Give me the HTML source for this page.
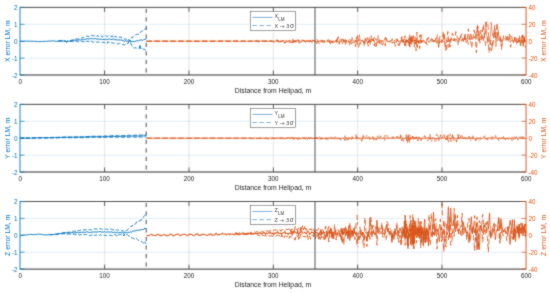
<!DOCTYPE html>
<html><head><meta charset="utf-8"><style>
html,body{margin:0;padding:0;background:#fff;}
svg{display:block;}
.tk{font-size:6.3px;font-family:'Liberation Sans',sans-serif;}
.lb{font-size:6.8px;font-family:'Liberation Sans',sans-serif;}
.lg{font-size:5.5px;font-family:'Liberation Sans',sans-serif;}
</style></head><body>
<svg width="550" height="293" viewBox="0 0 550 293">
<defs><filter id="soft" filterUnits="userSpaceOnUse" x="0" y="0" width="550" height="293"><feConvolveMatrix order="3" kernelMatrix="1 2 1 2 16 2 1 2 1" divisor="28" edgeMode="duplicate"/></filter></defs>
<rect width="550" height="293" fill="#fff"/>
<g filter="url(#soft)">
<line x1="104.64" y1="7.4" x2="104.64" y2="75.0" stroke="#262626" stroke-opacity="0.12" stroke-width="1"/>
<line x1="188.98" y1="7.4" x2="188.98" y2="75.0" stroke="#262626" stroke-opacity="0.12" stroke-width="1"/>
<line x1="273.32" y1="7.4" x2="273.32" y2="75.0" stroke="#262626" stroke-opacity="0.12" stroke-width="1"/>
<line x1="357.66" y1="7.4" x2="357.66" y2="75.0" stroke="#262626" stroke-opacity="0.12" stroke-width="1"/>
<line x1="442.00" y1="7.4" x2="442.00" y2="75.0" stroke="#262626" stroke-opacity="0.12" stroke-width="1"/>
<line x1="20.0" y1="58.10" x2="526.0" y2="58.10" stroke="#0072BD" stroke-opacity="0.12" stroke-width="1"/>
<line x1="20.0" y1="24.30" x2="526.0" y2="24.30" stroke="#0072BD" stroke-opacity="0.12" stroke-width="1"/>
<line x1="104.64" y1="104.4" x2="104.64" y2="172.0" stroke="#262626" stroke-opacity="0.12" stroke-width="1"/>
<line x1="188.98" y1="104.4" x2="188.98" y2="172.0" stroke="#262626" stroke-opacity="0.12" stroke-width="1"/>
<line x1="273.32" y1="104.4" x2="273.32" y2="172.0" stroke="#262626" stroke-opacity="0.12" stroke-width="1"/>
<line x1="357.66" y1="104.4" x2="357.66" y2="172.0" stroke="#262626" stroke-opacity="0.12" stroke-width="1"/>
<line x1="442.00" y1="104.4" x2="442.00" y2="172.0" stroke="#262626" stroke-opacity="0.12" stroke-width="1"/>
<line x1="20.0" y1="155.10" x2="526.0" y2="155.10" stroke="#0072BD" stroke-opacity="0.12" stroke-width="1"/>
<line x1="20.0" y1="121.30" x2="526.0" y2="121.30" stroke="#0072BD" stroke-opacity="0.12" stroke-width="1"/>
<line x1="104.64" y1="201.5" x2="104.64" y2="269.1" stroke="#262626" stroke-opacity="0.12" stroke-width="1"/>
<line x1="188.98" y1="201.5" x2="188.98" y2="269.1" stroke="#262626" stroke-opacity="0.12" stroke-width="1"/>
<line x1="273.32" y1="201.5" x2="273.32" y2="269.1" stroke="#262626" stroke-opacity="0.12" stroke-width="1"/>
<line x1="357.66" y1="201.5" x2="357.66" y2="269.1" stroke="#262626" stroke-opacity="0.12" stroke-width="1"/>
<line x1="442.00" y1="201.5" x2="442.00" y2="269.1" stroke="#262626" stroke-opacity="0.12" stroke-width="1"/>
<line x1="20.0" y1="252.20" x2="526.0" y2="252.20" stroke="#0072BD" stroke-opacity="0.12" stroke-width="1"/>
<line x1="20.0" y1="218.40" x2="526.0" y2="218.40" stroke="#0072BD" stroke-opacity="0.12" stroke-width="1"/>
<path d="M20.0,41.3 L20.8,41.2 L21.6,41.2 L22.4,41.4 L23.2,41.3 L24.0,41.3 L24.8,41.1 L25.6,41.1 L26.4,41.0 L27.2,41.3 L28.0,41.0 L28.8,41.2 L29.6,41.1 L30.4,41.2 L31.2,41.3 L32.0,41.2 L32.8,41.2 L33.6,41.3 L34.4,41.4 L35.2,41.3 L36.0,41.5 L36.8,41.6 L37.6,41.4 L38.4,41.5 L39.2,41.7 L40.0,41.5 L40.8,41.4 L41.6,41.5 L42.4,41.6 L43.2,41.3 L44.0,41.2 L44.8,41.4 L45.6,41.4 L46.4,41.2 L47.2,41.2 L48.0,41.3 L48.8,41.1 L49.6,40.9 L50.4,41.1 L51.2,41.1 L52.0,40.9 L52.8,40.9 L53.6,40.8 L54.4,41.2 L55.2,41.2 L56.0,41.3 L56.8,41.4 L57.6,41.1 L58.4,41.1 L59.2,41.2 L60.0,40.8 L60.8,40.9 L61.6,40.9 L62.4,40.9 L63.2,40.8 L64.0,41.3 L64.8,41.0 L65.6,41.1 L66.4,41.6 L67.2,41.2 L68.0,41.3 L68.8,41.1 L69.6,41.2 L70.4,41.0 L71.2,40.7 L72.0,40.8 L72.8,40.4 L73.6,40.4 L74.4,40.2 L75.2,40.3 L76.0,40.0 L76.8,40.1 L77.6,40.2 L78.4,40.0 L79.2,39.8 L80.0,39.7 L80.8,40.3 L81.6,39.7 L82.4,39.7 L83.2,39.7 L84.0,39.7 L84.8,39.1 L85.6,39.5 L86.4,39.0 L87.2,38.7 L88.0,39.2 L88.8,38.9 L89.6,39.0 L90.4,38.7 L91.2,38.4 L92.0,38.3 L92.8,39.1 L93.6,38.9 L94.4,38.7 L95.2,38.5 L96.0,38.8 L96.8,39.2 L97.6,39.0 L98.4,39.1 L99.2,39.2 L100.0,39.3 L100.8,39.1 L101.6,39.2 L102.4,39.3 L103.2,39.4 L104.0,39.6 L104.8,39.5 L105.6,39.1 L106.4,39.4 L107.2,39.7 L108.0,39.0 L108.8,39.2 L109.6,38.8 L110.4,39.3 L111.2,39.4 L112.0,39.7 L112.8,39.1 L113.6,38.8 L114.4,39.8 L115.2,39.8 L116.0,39.5 L116.8,40.0 L117.6,39.9 L118.4,40.0 L119.2,39.9 L120.0,39.8 L120.8,40.2 L121.6,40.0 L122.4,40.5 L123.2,40.5 L124.0,41.3 L124.8,41.3 L125.6,40.7 L126.4,41.2 L127.2,41.0 L128.0,41.0 L128.8,40.9 L129.6,41.1 L130.4,41.1 L131.2,41.4 L132.0,41.5 L132.8,41.5 L133.6,41.4 L134.4,41.6 L135.2,41.3 L136.0,41.0 L136.8,40.7 L137.6,40.7 L138.4,41.0 L139.2,40.4 L140.0,40.2 L140.8,39.9 L141.6,40.0 L142.4,40.3 L143.2,40.2 L144.0,39.3 L144.8,39.5 L145.6,39.1 L146.4,38.9" fill="none" stroke="#0072BD" stroke-width="1.0"/>
<path d="M58.4,40.9 L59.2,41.1 L60.0,40.7 L60.8,40.8 L61.6,40.8 L62.4,40.9 L63.2,40.9 L64.0,41.3 L64.8,41.1 L65.6,41.2 L66.4,41.7 L67.2,41.2 L68.0,41.2 L68.8,40.9 L69.6,40.9 L70.4,40.6 L71.2,40.2 L72.0,40.3 L72.8,39.8 L73.6,39.6 L74.4,39.3 L75.2,39.3 L76.0,38.9 L76.8,38.8 L77.6,39.2 L78.4,38.7 L79.2,38.2 L80.0,38.2 L80.8,38.7 L81.6,38.0 L82.4,37.8 L83.2,37.4 L84.0,37.5 L84.8,36.5 L85.6,36.5 L86.4,36.4 L87.2,35.8 L88.0,36.5 L88.8,36.5 L89.6,36.3 L90.4,36.1 L91.2,35.3 L92.0,35.6 L92.8,35.7 L93.6,35.7 L94.4,36.2 L95.2,35.2 L96.0,35.3 L96.8,36.3 L97.6,35.6 L98.4,36.5 L99.2,36.0 L100.0,36.7 L100.8,35.8 L101.6,36.5 L102.4,36.9 L103.2,36.1 L104.0,35.8 L104.8,36.5 L105.6,35.7 L106.4,36.2 L107.2,36.7 L108.0,35.7 L108.8,35.6 L109.6,36.0 L110.4,36.0 L111.2,36.3 L112.0,37.1 L112.8,35.6 L113.6,35.3 L114.4,37.1 L115.2,36.4 L116.0,36.7 L116.8,37.2 L117.6,36.6 L118.4,37.2 L119.2,37.2 L120.0,36.8 L120.8,37.3 L121.6,37.4 L122.4,38.7 L123.2,38.8 L124.0,38.7 L124.8,39.4 L125.6,38.6 L126.4,39.7 L127.2,39.3 L128.0,39.9 L128.8,39.1 L129.6,40.6 L130.4,40.8 L131.2,38.6 L132.0,36.9 L132.8,37.5 L133.6,36.5 L134.4,36.3 L135.2,35.3 L136.0,34.7 L136.8,34.5 L137.6,34.0 L138.4,34.4 L139.2,34.5 L140.0,32.5 L140.8,32.0 L141.6,31.4 L142.4,31.1 L143.2,29.9 L144.0,29.8 L144.8,29.5 L145.6,28.5 L146.4,29.4" fill="none" stroke="#0072BD" stroke-width="0.9" stroke-dasharray="4,2"/>
<path d="M58.4,41.1 L59.2,41.2 L60.0,40.8 L60.8,40.9 L61.6,41.0 L62.4,41.0 L63.2,41.0 L64.0,41.5 L64.8,41.3 L65.6,41.4 L66.4,41.9 L67.2,41.6 L68.0,41.7 L68.8,41.5 L69.6,41.7 L70.4,41.6 L71.2,41.4 L72.0,41.4 L72.8,41.2 L73.6,41.3 L74.4,41.0 L75.2,41.5 L76.0,41.0 L76.8,41.2 L77.6,41.7 L78.4,41.8 L79.2,41.4 L80.0,41.3 L80.8,41.9 L81.6,41.6 L82.4,41.4 L83.2,41.5 L84.0,42.2 L84.8,41.0 L85.6,41.8 L86.4,41.6 L87.2,41.3 L88.0,41.3 L88.8,41.3 L89.6,42.2 L90.4,41.4 L91.2,41.2 L92.0,41.2 L92.8,42.1 L93.6,42.2 L94.4,41.3 L95.2,41.7 L96.0,41.8 L96.8,42.2 L97.6,42.1 L98.4,41.9 L99.2,42.1 L100.0,42.5 L100.8,42.4 L101.6,42.4 L102.4,42.1 L103.2,42.4 L104.0,42.7 L104.8,42.7 L105.6,42.3 L106.4,42.5 L107.2,43.4 L108.0,41.6 L108.8,42.6 L109.6,42.2 L110.4,42.2 L111.2,42.7 L112.0,43.1 L112.8,42.8 L113.6,42.9 L114.4,43.4 L115.2,43.1 L116.0,43.5 L116.8,43.2 L117.6,43.9 L118.4,43.9 L119.2,43.4 L120.0,43.4 L120.8,43.5 L121.6,43.8 L122.4,44.4 L123.2,44.5 L124.0,45.1 L124.8,44.9 L125.6,44.2 L126.4,43.7 L127.2,43.3 L128.0,43.5 L128.8,41.2 L129.6,42.0 L130.4,41.7 L131.2,44.1 L132.0,45.9 L132.8,47.2 L133.6,47.7 L134.4,48.1 L135.2,47.4 L136.0,48.2 L136.8,48.2 L137.6,48.1 L138.4,48.1 L139.2,48.6 L140.0,44.5 L140.8,48.8 L141.6,47.8 L142.4,48.6 L143.2,49.2 L144.0,49.0 L144.8,49.3 L145.6,50.4 L146.4,49.7" fill="none" stroke="#0072BD" stroke-width="0.9" stroke-dasharray="4,2"/>
<path d="M146.5,41.2 L147.3,41.3 L148.1,41.2 L148.9,41.2 L149.7,41.2 L150.5,41.2 L151.3,41.2 L152.1,41.2 L152.9,41.2 L153.7,41.2 L154.5,41.2 L155.3,41.2 L156.1,41.2 L156.9,41.2 L157.7,41.2 L158.5,41.2 L159.3,41.2 L160.1,41.2 L160.9,41.2 L161.7,41.2 L162.5,41.2 L163.3,41.2 L164.1,41.2 L164.9,41.2 L165.7,41.2 L166.5,41.2 L167.3,41.2 L168.1,41.2 L168.9,41.2 L169.7,41.2 L170.5,41.2 L171.3,41.2 L172.1,41.3 L172.9,41.2 L173.7,41.2 L174.5,41.2 L175.3,41.2 L176.1,41.2 L176.9,41.2 L177.7,41.2 L178.5,41.2 L179.3,41.2 L180.1,41.3 L180.9,41.2 L181.7,41.2 L182.5,41.2 L183.3,41.2 L184.1,41.2 L184.9,41.2 L185.7,41.2 L186.5,41.2 L187.3,41.2 L188.1,41.2 L188.9,41.2 L189.7,41.2 L190.5,41.2 L191.3,41.2 L192.1,41.2 L192.9,41.2 L193.7,41.2 L194.5,41.2 L195.3,41.2 L196.1,41.2 L196.9,41.2 L197.7,41.2 L198.5,41.2 L199.3,41.2 L200.1,41.2 L200.9,41.0 L201.7,41.3 L202.5,41.2 L203.3,41.2 L204.1,41.2 L204.9,41.2 L205.7,41.2 L206.5,41.2 L207.3,41.2 L208.1,41.2 L208.9,41.2 L209.7,41.2 L210.5,41.2 L211.3,41.2 L212.1,41.2 L212.9,41.2 L213.7,41.2 L214.5,41.4 L215.3,41.2 L216.1,41.2 L216.9,41.2 L217.7,41.2 L218.5,41.2 L219.3,41.2 L220.1,41.2 L220.9,41.2 L221.7,41.2 L222.5,41.4 L223.3,41.0 L224.1,41.0 L224.9,41.1 L225.7,41.2 L226.5,40.9 L227.3,41.2 L228.1,41.2 L228.9,41.1 L229.7,41.1 L230.5,41.2 L231.3,41.1 L232.1,41.2 L232.9,41.2 L233.7,41.2 L234.5,41.2 L235.3,41.2 L236.1,41.6 L236.9,41.0 L237.7,41.2 L238.5,41.3 L239.3,41.7 L240.1,41.3 L240.9,41.2 L241.7,41.2 L242.5,41.1 L243.3,41.2 L244.1,41.1 L244.9,41.2 L245.7,41.1 L246.5,41.6 L247.3,41.1 L248.1,41.1 L248.9,41.2 L249.7,41.2 L250.5,41.2 L251.3,41.1 L252.1,41.2 L252.9,41.2 L253.7,41.1 L254.5,41.2 L255.3,41.2 L256.1,41.2 L256.9,41.2 L257.7,41.3 L258.5,41.1 L259.3,41.1 L260.1,41.1 L260.9,41.2 L261.7,41.2 L262.5,41.2 L263.3,41.1 L264.1,41.2 L264.9,41.1 L265.7,40.8 L266.5,41.2 L267.3,41.1 L268.1,41.3 L268.9,41.1 L269.7,41.0 L270.5,41.2 L271.3,41.3 L272.1,41.4 L272.9,41.2 L273.7,41.0 L274.5,41.2 L275.3,41.0 L276.1,41.3 L276.9,41.1 L277.7,41.0 L278.5,40.5 L279.3,41.4 L280.1,41.4 L280.9,41.0 L281.7,41.5 L282.5,41.4 L283.3,41.1 L284.1,41.0 L284.9,41.0 L285.7,41.2 L286.5,41.0 L287.3,41.0 L288.1,41.8 L288.9,41.4 L289.7,41.0 L290.5,41.4 L291.3,41.2 L292.1,41.3 L292.9,41.2 L293.7,41.4 L294.5,41.1 L295.3,41.1 L296.1,41.2 L296.9,41.2 L297.7,41.1 L298.5,41.1 L299.3,41.0 L300.1,41.2 L300.9,41.4 L301.7,41.4 L302.5,41.2 L303.3,41.5 L304.1,40.5 L304.9,41.1 L305.7,41.0 L306.5,41.4 L307.3,41.4 L308.1,41.3 L308.9,41.5 L309.7,41.2 L310.5,40.5 L311.3,41.0 L312.1,41.1 L312.9,40.0 L313.7,41.0 L314.5,41.0 L315.3,42.0 L316.1,41.2 L316.9,41.8 L317.7,41.2 L318.5,41.4 L319.3,41.3 L320.1,41.3 L320.9,41.3 L321.7,39.8 L322.5,41.0 L323.3,41.0 L324.1,41.3 L324.9,41.0 L325.7,41.2 L326.5,41.3 L327.3,41.3 L328.1,41.0 L328.9,41.0 L329.7,40.9 L330.5,39.9" fill="none" stroke="#D95319" stroke-width="0.7" stroke-opacity="0.9"/>
<path d="M330.5,39.9 L331.3,41.4 L332.1,40.9 L332.9,43.0 L333.7,42.7 L334.5,41.3 L335.3,41.0 L336.1,41.6 L336.9,40.9 L337.7,41.4 L338.5,41.4 L339.3,41.8 L340.1,41.5 L340.9,41.8 L341.7,41.3 L342.5,44.1 L343.3,40.9 L344.1,41.5 L344.9,41.0 L345.7,41.4 L346.5,40.7 L347.3,41.4 L348.1,41.0 L348.9,41.9 L349.7,45.2 L350.5,41.0 L351.3,41.7 L352.1,37.3 L353.0,41.1 L353.8,40.9 L354.7,40.4 L355.6,40.8 L356.5,42.0 L357.4,35.4 L358.3,40.8 L359.3,34.6 L360.3,44.5 L361.3,41.9 L362.3,40.2 L363.3,40.5 L364.3,42.2 L365.3,38.1 L366.3,41.8 L367.3,41.5 L368.3,41.9 L369.3,40.4 L370.3,42.1 L371.3,35.4 L372.3,40.7 L373.3,41.6 L374.3,40.2 L375.3,46.6 L376.3,45.1 L377.3,41.7 L378.3,41.8 L379.3,40.2 L380.3,42.0 L381.3,40.4 L382.3,40.6 L383.3,41.1 L384.3,40.8 L385.3,41.4 L386.3,40.8 L387.3,41.4 L388.3,41.5 L389.3,41.8 L390.3,41.1 L391.3,40.9 L392.3,38.5 L393.3,43.1 L394.3,41.9 L395.3,41.4 L396.3,41.1 L397.3,38.7 L398.3,41.6 L399.3,41.5 L400.3,40.4 L401.3,40.8 L402.1,40.5 L402.7,41.2 L403.2,40.9 L403.6,40.5 L404.1,41.3 L404.5,41.5 L405.0,40.9 L405.4,41.8 L405.9,46.5 L406.3,40.3 L406.7,41.7 L407.2,41.4 L407.6,41.9 L408.1,42.5 L408.5,41.2 L409.0,46.0 L409.4,34.8 L409.9,41.2 L410.3,41.2 L410.7,42.4 L411.2,40.8 L411.6,41.0 L412.1,41.1 L412.5,41.5 L413.0,35.5 L413.4,41.6 L413.9,40.0 L414.3,47.2 L414.7,41.0 L415.2,36.5 L415.6,41.4 L416.1,41.5 L416.5,39.7 L417.0,40.7 L417.4,42.0 L417.9,40.9 L418.3,42.2 L418.7,41.3 L419.2,41.4 L419.6,41.8 L420.1,42.6 L420.5,39.8 L421.1,40.2 L421.7,40.3 L422.7,40.6 L423.8,40.4 L425.0,42.0 L426.1,44.1 L427.2,38.0 L428.4,41.8 L429.5,41.2 L430.7,40.8 L431.8,40.9 L433.0,41.1 L434.1,40.8 L435.2,41.1 L436.4,41.0 L437.5,40.2 L438.7,42.2 L439.8,42.4 L441.0,41.3 L442.1,39.9 L443.2,42.2 L444.4,40.4 L445.5,40.4 L446.7,39.9 L447.8,42.0 L449.0,41.2 L450.1,39.8 L451.2,39.9 L452.4,40.0 L453.5,39.8 L454.7,40.7 L455.8,41.6 L457.0,38.4 L458.1,44.9 L459.2,40.9 L460.4,35.6 L461.5,41.1 L462.7,40.7 L463.8,40.1 L465.0,38.0 L466.1,39.1 L467.2,40.1 L468.4,39.3 L469.5,37.2 L470.7,40.0 L471.8,38.4 L473.0,37.4 L474.1,37.9 L475.2,36.5 L476.4,37.7 L477.5,24.7 L478.7,41.1 L479.8,36.1 L481.0,37.2 L482.1,37.0 L483.2,38.0 L484.4,37.2 L485.5,21.8 L486.7,36.4 L487.8,40.9 L489.0,37.6 L490.1,40.8 L491.2,22.1 L492.4,35.9 L493.5,30.6 L494.7,30.4 L495.8,46.9 L497.0,40.3 L498.1,36.7 L499.2,37.3 L500.4,38.5 L501.5,49.7 L502.7,39.7 L503.8,38.1 L505.0,38.4 L506.1,39.3 L507.2,37.0 L508.4,39.6 L509.5,39.4 L510.7,37.7 L511.8,39.3 L513.0,39.9 L513.7,42.5 L514.3,39.4 L514.8,39.7 L515.3,40.1 L515.7,40.1 L516.2,39.1 L516.6,41.0 L517.1,40.8 L517.5,41.3 L518.0,40.7 L518.4,40.6 L518.9,40.0 L519.3,41.6 L519.7,41.0 L520.2,41.7 L520.6,41.7 L521.1,39.8 L521.5,40.9 L522.0,40.7 L522.4,41.3 L522.9,39.7 L523.3,41.1 L523.7,41.0 L524.2,40.4 L524.6,39.9 L525.1,41.1 L525.5,39.7" fill="none" stroke="#D95319" stroke-width="0.59" stroke-opacity="0.9"/>
<path d="M146.5,41.1 L147.3,41.2 L148.1,41.2 L148.9,41.3 L149.7,41.1 L150.5,41.2 L151.3,41.2 L152.1,41.2 L152.9,41.1 L153.7,41.2 L154.5,41.2 L155.3,41.1 L156.1,41.1 L156.9,41.2 L157.7,41.1 L158.5,41.0 L159.3,41.2 L160.1,41.2 L160.9,41.2 L161.7,41.2 L162.5,41.0 L163.3,41.2 L164.1,41.1 L164.9,41.3 L165.7,41.2 L166.5,41.2 L167.3,41.1 L168.1,41.3 L168.9,41.1 L169.7,41.2 L170.5,41.2 L171.3,41.1 L172.1,41.2 L172.9,41.0 L173.7,41.2 L174.5,41.1 L175.3,41.1 L176.1,41.1 L176.9,41.3 L177.7,41.2 L178.5,41.2 L179.3,41.1 L180.1,41.1 L180.9,41.1 L181.7,41.1 L182.5,41.1 L183.3,41.1 L184.1,41.2 L184.9,41.1 L185.7,41.0 L186.5,41.1 L187.3,41.2 L188.1,41.1 L188.9,41.1 L189.7,41.1 L190.5,41.1 L191.3,41.1 L192.1,41.0 L192.9,41.1 L193.7,41.1 L194.5,41.1 L195.3,41.1 L196.1,41.3 L196.9,41.1 L197.7,41.1 L198.5,41.2 L199.3,41.1 L200.1,41.1 L200.9,41.2 L201.7,41.1 L202.5,41.1 L203.3,41.0 L204.1,41.1 L204.9,41.3 L205.7,40.9 L206.5,40.9 L207.3,41.0 L208.1,41.1 L208.9,41.0 L209.7,41.0 L210.5,41.2 L211.3,41.2 L212.1,41.1 L212.9,41.1 L213.7,41.0 L214.5,40.9 L215.3,41.0 L216.1,41.1 L216.9,41.1 L217.7,41.1 L218.5,41.3 L219.3,41.0 L220.1,41.0 L220.9,40.9 L221.7,41.2 L222.5,40.8 L223.3,41.1 L224.1,41.0 L224.9,41.1 L225.7,41.1 L226.5,40.7 L227.3,41.0 L228.1,41.1 L228.9,41.3 L229.7,41.0 L230.5,41.1 L231.3,41.1 L232.1,41.3 L232.9,41.0 L233.7,40.9 L234.5,41.0 L235.3,41.4 L236.1,40.7 L236.9,40.6 L237.7,41.1 L238.5,40.9 L239.3,41.1 L240.1,41.1 L240.9,40.9 L241.7,41.1 L242.5,40.7 L243.3,41.5 L244.1,40.9 L244.9,41.1 L245.7,41.2 L246.5,41.0 L247.3,41.4 L248.1,41.6 L248.9,40.9 L249.7,41.1 L250.5,40.6 L251.3,41.3 L252.1,41.0 L252.9,40.9 L253.7,40.3 L254.5,41.0 L255.3,41.1 L256.1,41.1 L256.9,40.3 L257.7,40.9 L258.5,41.0 L259.3,40.8 L260.1,41.5 L260.9,41.0 L261.7,40.8 L262.5,40.5 L263.3,41.0 L264.1,41.0 L264.9,41.0 L265.7,40.9 L266.5,40.7 L267.3,41.3 L268.1,40.6 L268.9,41.6 L269.7,41.0 L270.5,40.6 L271.3,40.8 L272.1,40.9 L272.9,41.5 L273.7,40.9 L274.5,40.9 L275.3,40.8 L276.1,40.5 L276.9,40.0 L277.7,40.0 L278.5,42.0 L279.3,41.0 L280.1,40.0 L280.9,42.1 L281.7,40.4 L282.5,40.6 L283.3,40.5 L284.1,40.6 L284.9,40.4 L285.7,39.9 L286.5,41.0 L287.3,41.7 L288.1,40.9 L288.9,40.7 L289.7,40.6 L290.5,40.6 L291.3,39.8 L292.1,40.8 L292.9,39.4 L293.7,41.8 L294.5,40.4 L295.3,39.4 L296.1,40.8 L296.9,40.4 L297.7,39.6 L298.5,41.0 L299.3,39.8 L300.1,40.4 L300.9,40.7 L301.7,41.3 L302.5,39.8 L303.3,40.6 L304.1,40.3 L304.9,41.4 L305.7,39.5 L306.5,40.7 L307.3,40.8 L308.1,40.3 L308.9,40.9 L309.7,40.7 L310.5,39.7 L311.3,41.8 L312.1,40.4 L312.9,40.3 L313.7,40.7 L314.5,40.5 L315.3,41.5 L316.1,40.4 L316.9,39.3 L317.7,41.5 L318.5,41.4 L319.3,40.7 L320.1,41.5 L320.9,41.4 L321.7,42.2 L322.5,40.4 L323.3,42.1 L324.1,40.9 L324.9,40.5 L325.7,40.2 L326.5,40.6 L327.3,40.9 L328.1,39.5 L328.9,40.3 L329.7,40.9 L330.5,42.3" fill="none" stroke="#D95319" stroke-width="0.95" stroke-dasharray="5.5,2.5" stroke-opacity="1.0"/>
<path d="M330.5,42.3 L331.3,41.0 L332.1,42.3 L332.9,40.8 L333.7,40.5 L334.5,42.2 L335.3,40.9 L336.1,40.2 L336.9,43.0 L337.7,37.2 L338.5,36.8 L339.3,44.3 L340.1,39.7 L340.9,38.9 L341.7,39.6 L342.5,39.9 L343.3,39.8 L344.1,41.4 L344.9,43.9 L345.7,44.3 L346.5,39.9 L347.3,41.3 L348.1,40.8 L348.9,40.1 L349.7,39.4 L350.5,40.2 L351.3,40.1 L352.1,40.0 L353.0,41.9 L353.8,41.6 L354.7,41.4 L355.6,40.8 L356.5,43.8 L357.4,41.8 L358.3,40.8 L359.3,40.3 L360.3,39.8 L361.3,40.7 L362.3,39.6 L363.3,39.5 L364.3,46.4 L365.3,39.4 L366.3,39.9 L367.3,41.8 L368.3,46.2 L369.3,37.1 L370.3,45.2 L371.3,39.3 L372.3,39.3 L373.3,39.5 L374.3,37.2 L375.3,39.3 L376.3,39.3 L377.3,41.9 L378.3,35.5 L379.3,41.1 L380.3,41.2 L381.3,40.0 L382.3,45.2 L383.3,43.3 L384.3,40.9 L385.3,37.3 L386.3,40.1 L387.3,39.9 L388.3,42.0 L389.3,41.4 L390.3,40.8 L391.3,39.8 L392.3,39.9 L393.3,40.8 L394.3,40.7 L395.3,40.2 L396.3,39.2 L397.3,39.5 L398.3,45.5 L399.3,44.0 L400.3,41.2 L401.3,41.5 L402.1,36.5 L402.7,39.6 L403.2,43.0 L403.6,39.6 L404.1,39.9 L404.5,39.8 L405.0,35.7 L405.4,44.7 L405.9,41.1 L406.3,39.5 L406.7,39.5 L407.2,41.0 L407.6,40.2 L408.1,42.6 L408.5,38.5 L409.0,38.7 L409.4,40.5 L409.9,47.2 L410.3,37.2 L410.7,40.4 L411.2,35.1 L411.6,43.1 L412.1,37.5 L412.5,40.4 L413.0,39.7 L413.4,36.2 L413.9,39.1 L414.3,39.8 L414.7,41.0 L415.2,40.0 L415.6,41.5 L416.1,44.6 L416.5,41.7 L417.0,32.0 L417.4,47.5 L417.9,44.2 L418.3,41.4 L418.7,42.5 L419.2,42.2 L419.6,36.8 L420.1,34.8 L420.5,38.6 L421.1,40.1 L421.7,42.1 L422.7,41.1 L423.8,41.0 L425.0,41.4 L426.1,40.1 L427.2,39.5 L428.4,37.4 L429.5,40.3 L430.7,40.3 L431.8,39.5 L433.0,39.8 L434.1,41.2 L435.2,41.9 L436.4,39.0 L437.5,34.6 L438.7,47.3 L439.8,36.4 L441.0,39.3 L442.1,42.2 L443.2,31.4 L444.4,40.8 L445.5,46.8 L446.7,49.5 L447.8,40.8 L449.0,38.9 L450.1,47.0 L451.2,37.0 L452.4,38.4 L453.5,40.8 L454.7,39.6 L455.8,31.6 L457.0,36.9 L458.1,38.2 L459.2,39.2 L460.4,39.9 L461.5,33.8 L462.7,38.2 L463.8,39.7 L465.0,36.3 L466.1,42.5 L467.2,39.3 L468.4,28.8 L469.5,40.9 L470.7,32.7 L471.8,39.5 L473.0,37.6 L474.1,37.6 L475.2,36.5 L476.4,52.7 L477.5,27.1 L478.7,35.5 L479.8,40.2 L481.0,30.0 L482.1,36.9 L483.2,41.3 L484.4,33.6 L485.5,34.0 L486.7,22.0 L487.8,22.1 L489.0,40.7 L490.1,41.2 L491.2,50.8 L492.4,44.1 L493.5,37.1 L494.7,25.2 L495.8,36.9 L497.0,40.7 L498.1,29.5 L499.2,40.6 L500.4,36.3 L501.5,46.5 L502.7,40.6 L503.8,35.0 L505.0,35.4 L506.1,38.0 L507.2,39.7 L508.4,39.2 L509.5,38.5 L510.7,35.6 L511.8,36.6 L513.0,39.5 L513.7,39.7 L514.3,40.3 L514.8,37.3 L515.3,39.8 L515.7,39.4 L516.2,39.1 L516.6,43.4 L517.1,43.1 L517.5,38.9 L518.0,40.1 L518.4,40.9 L518.9,40.7 L519.3,35.4 L519.7,38.5 L520.2,44.3 L520.6,45.8 L521.1,39.5 L521.5,36.4 L522.0,36.9 L522.4,38.8 L522.9,35.2 L523.3,45.6 L523.7,41.2 L524.2,35.5 L524.6,41.4 L525.1,39.6 L525.5,41.0" fill="none" stroke="#D95319" stroke-width="0.81" stroke-dasharray="5.5,2.5" stroke-opacity="1.0"/>
<path d="M146.5,41.2 L147.3,41.2 L148.1,41.2 L148.9,41.2 L149.7,41.3 L150.5,41.3 L151.3,41.2 L152.1,41.1 L152.9,41.2 L153.7,41.2 L154.5,41.2 L155.3,41.2 L156.1,41.3 L156.9,41.2 L157.7,41.2 L158.5,41.4 L159.3,41.2 L160.1,41.3 L160.9,41.1 L161.7,41.2 L162.5,41.3 L163.3,41.2 L164.1,41.2 L164.9,41.2 L165.7,41.2 L166.5,41.2 L167.3,41.2 L168.1,41.2 L168.9,41.3 L169.7,41.3 L170.5,41.3 L171.3,41.3 L172.1,41.1 L172.9,41.4 L173.7,41.2 L174.5,41.4 L175.3,41.4 L176.1,41.2 L176.9,41.2 L177.7,41.3 L178.5,41.5 L179.3,41.3 L180.1,41.1 L180.9,41.4 L181.7,41.3 L182.5,41.3 L183.3,41.3 L184.1,41.3 L184.9,41.3 L185.7,41.4 L186.5,41.4 L187.3,41.3 L188.1,41.3 L188.9,41.2 L189.7,41.3 L190.5,41.3 L191.3,41.3 L192.1,41.4 L192.9,41.3 L193.7,41.3 L194.5,41.3 L195.3,41.3 L196.1,41.4 L196.9,41.3 L197.7,41.3 L198.5,41.3 L199.3,41.3 L200.1,41.3 L200.9,41.3 L201.7,41.3 L202.5,41.2 L203.3,41.1 L204.1,41.3 L204.9,41.3 L205.7,41.3 L206.5,41.6 L207.3,41.3 L208.1,41.4 L208.9,41.3 L209.7,41.2 L210.5,41.3 L211.3,41.4 L212.1,41.3 L212.9,41.3 L213.7,41.5 L214.5,41.3 L215.3,41.4 L216.1,41.3 L216.9,41.3 L217.7,41.3 L218.5,41.3 L219.3,41.3 L220.1,41.3 L220.9,41.1 L221.7,41.4 L222.5,41.2 L223.3,41.4 L224.1,41.4 L224.9,41.4 L225.7,41.2 L226.5,41.4 L227.3,41.3 L228.1,41.6 L228.9,41.4 L229.7,41.0 L230.5,41.7 L231.3,41.7 L232.1,41.4 L232.9,41.5 L233.7,41.2 L234.5,41.4 L235.3,41.4 L236.1,41.0 L236.9,41.1 L237.7,41.5 L238.5,41.7 L239.3,41.3 L240.1,41.5 L240.9,41.3 L241.7,41.4 L242.5,41.3 L243.3,41.3 L244.1,40.9 L244.9,41.5 L245.7,41.7 L246.5,41.4 L247.3,41.0 L248.1,41.5 L248.9,41.4 L249.7,41.5 L250.5,41.0 L251.3,41.4 L252.1,41.3 L252.9,41.4 L253.7,40.8 L254.5,41.4 L255.3,40.9 L256.1,41.6 L256.9,41.3 L257.7,41.5 L258.5,41.9 L259.3,41.4 L260.1,41.4 L260.9,41.0 L261.7,41.3 L262.5,41.4 L263.3,41.5 L264.1,41.4 L264.9,41.6 L265.7,41.4 L266.5,41.1 L267.3,41.7 L268.1,41.4 L268.9,41.3 L269.7,41.6 L270.5,41.3 L271.3,41.4 L272.1,41.3 L272.9,41.4 L273.7,42.4 L274.5,41.7 L275.3,41.1 L276.1,40.9 L276.9,40.4 L277.7,41.7 L278.5,41.7 L279.3,41.8 L280.1,41.9 L280.9,41.3 L281.7,41.6 L282.5,41.4 L283.3,42.0 L284.1,41.8 L284.9,43.3 L285.7,42.0 L286.5,41.9 L287.3,41.6 L288.1,41.4 L288.9,43.0 L289.7,42.4 L290.5,42.3 L291.3,42.0 L292.1,43.0 L292.9,40.5 L293.7,42.7 L294.5,42.1 L295.3,40.7 L296.1,43.1 L296.9,42.0 L297.7,41.4 L298.5,42.2 L299.3,42.8 L300.1,41.6 L300.9,42.6 L301.7,41.9 L302.5,41.7 L303.3,40.5 L304.1,40.9 L304.9,41.9 L305.7,42.1 L306.5,41.4 L307.3,41.8 L308.1,41.6 L308.9,41.0 L309.7,42.2 L310.5,40.8 L311.3,41.9 L312.1,42.1 L312.9,41.8 L313.7,41.6 L314.5,42.0 L315.3,41.9 L316.1,42.7 L316.9,43.2 L317.7,43.0 L318.5,42.7 L319.3,43.3 L320.1,42.2 L320.9,40.3 L321.7,41.6 L322.5,42.1 L323.3,41.9 L324.1,42.1 L324.9,42.5 L325.7,42.1 L326.5,41.9 L327.3,41.6 L328.1,41.4 L328.9,41.5 L329.7,43.0 L330.5,43.7" fill="none" stroke="#D95319" stroke-width="0.95" stroke-dasharray="5.5,2.5" stroke-opacity="1.0"/>
<path d="M330.5,43.7 L331.3,42.0 L332.1,42.0 L332.9,42.5 L333.7,41.8 L334.5,42.0 L335.3,41.5 L336.1,42.1 L336.9,39.0 L337.7,41.5 L338.5,41.6 L339.3,39.7 L340.1,40.8 L340.9,41.2 L341.7,41.3 L342.5,38.2 L343.3,38.5 L344.1,42.4 L344.9,38.3 L345.7,42.6 L346.5,41.4 L347.3,40.8 L348.1,42.3 L348.9,41.0 L349.7,42.5 L350.5,41.9 L351.3,45.0 L352.1,42.1 L353.0,42.3 L353.8,43.0 L354.7,41.7 L355.6,46.8 L356.5,37.1 L357.4,40.8 L358.3,47.9 L359.3,44.5 L360.3,41.5 L361.3,40.5 L362.3,41.0 L363.3,41.4 L364.3,43.0 L365.3,43.0 L366.3,42.9 L367.3,37.6 L368.3,42.9 L369.3,40.4 L370.3,42.0 L371.3,41.6 L372.3,41.5 L373.3,38.5 L374.3,45.7 L375.3,43.2 L376.3,46.6 L377.3,40.5 L378.3,42.8 L379.3,41.5 L380.3,45.3 L381.3,41.9 L382.3,40.8 L383.3,42.3 L384.3,42.1 L385.3,45.9 L386.3,38.2 L387.3,42.1 L388.3,42.2 L389.3,42.1 L390.3,41.1 L391.3,42.4 L392.3,43.0 L393.3,41.5 L394.3,41.0 L395.3,46.4 L396.3,42.0 L397.3,40.5 L398.3,40.9 L399.3,45.6 L400.3,42.7 L401.3,37.3 L402.1,43.1 L402.7,40.7 L403.2,39.4 L403.6,42.2 L404.1,44.6 L404.5,45.6 L405.0,41.4 L405.4,40.6 L405.9,41.8 L406.3,42.4 L406.7,40.6 L407.2,42.0 L407.6,40.9 L408.1,43.2 L408.5,42.3 L409.0,42.2 L409.4,45.2 L409.9,46.9 L410.3,41.7 L410.7,36.6 L411.2,41.4 L411.6,44.6 L412.1,40.6 L412.5,40.6 L413.0,42.1 L413.4,42.0 L413.9,41.4 L414.3,42.6 L414.7,43.0 L415.2,43.5 L415.6,42.2 L416.1,50.8 L416.5,43.7 L417.0,41.9 L417.4,43.2 L417.9,41.0 L418.3,40.5 L418.7,43.7 L419.2,43.1 L419.6,48.6 L420.1,43.0 L420.5,43.2 L421.1,34.5 L421.7,42.9 L422.7,40.5 L423.8,39.7 L425.0,42.8 L426.1,42.3 L427.2,44.8 L428.4,41.8 L429.5,41.9 L430.7,40.7 L431.8,37.4 L433.0,41.6 L434.1,41.5 L435.2,37.9 L436.4,43.2 L437.5,41.0 L438.7,46.5 L439.8,41.1 L441.0,42.3 L442.1,42.5 L443.2,39.8 L444.4,33.4 L445.5,50.6 L446.7,41.4 L447.8,31.5 L449.0,47.4 L450.1,40.1 L451.2,39.4 L452.4,33.0 L453.5,36.9 L454.7,40.9 L455.8,39.2 L457.0,41.3 L458.1,42.0 L459.2,38.6 L460.4,39.6 L461.5,41.2 L462.7,38.9 L463.8,42.1 L465.0,32.9 L466.1,40.7 L467.2,40.1 L468.4,44.3 L469.5,41.4 L470.7,41.2 L471.8,47.9 L473.0,37.4 L474.1,29.9 L475.2,36.5 L476.4,31.3 L477.5,26.1 L478.7,28.0 L479.8,43.2 L481.0,41.8 L482.1,34.3 L483.2,24.6 L484.4,35.1 L485.5,45.5 L486.7,45.6 L487.8,36.1 L489.0,52.6 L490.1,42.0 L491.2,40.2 L492.4,48.4 L493.5,40.4 L494.7,31.1 L495.8,39.1 L497.0,22.9 L498.1,35.0 L499.2,36.5 L500.4,37.1 L501.5,41.9 L502.7,40.2 L503.8,39.7 L505.0,39.2 L506.1,40.5 L507.2,35.1 L508.4,41.3 L509.5,33.9 L510.7,47.3 L511.8,40.2 L513.0,40.5 L513.7,43.6 L514.3,41.2 L514.8,37.3 L515.3,37.5 L515.7,41.7 L516.2,40.5 L516.6,38.8 L517.1,38.3 L517.5,42.4 L518.0,41.1 L518.4,42.2 L518.9,37.9 L519.3,41.3 L519.7,41.2 L520.2,45.6 L520.6,45.0 L521.1,39.8 L521.5,41.9 L522.0,43.0 L522.4,34.8 L522.9,40.8 L523.3,46.9 L523.7,42.9 L524.2,37.0 L524.6,40.5 L525.1,42.8 L525.5,47.3" fill="none" stroke="#D95319" stroke-width="0.81" stroke-dasharray="5.5,2.5" stroke-opacity="1.0"/>
<line x1="146.2" y1="7.4" x2="146.2" y2="75.0" stroke="#3a3a3a" stroke-width="0.9" stroke-dasharray="4.2,4.3" stroke-dashoffset="7.1"/>
<line x1="315.0" y1="7.4" x2="315.0" y2="75.0" stroke="#3a3a3a" stroke-width="0.85"/>
<line x1="20.0" y1="7.40" x2="526.0" y2="7.40" stroke="#262626" stroke-width="0.8"/>
<line x1="20.0" y1="75.00" x2="526.0" y2="75.00" stroke="#262626" stroke-width="0.95"/>
<line x1="20.00" y1="7.1" x2="20.00" y2="75.3" stroke="#0072BD" stroke-width="0.9"/>
<line x1="526.05" y1="7.1" x2="526.05" y2="75.3" stroke="#D95319" stroke-width="0.95"/>
<line x1="104.64" y1="7.4" x2="104.64" y2="11.9" stroke="#262626" stroke-width="0.7"/>
<line x1="104.64" y1="75.0" x2="104.64" y2="70.5" stroke="#262626" stroke-width="0.7"/>
<line x1="188.98" y1="7.4" x2="188.98" y2="11.9" stroke="#262626" stroke-width="0.7"/>
<line x1="188.98" y1="75.0" x2="188.98" y2="70.5" stroke="#262626" stroke-width="0.7"/>
<line x1="273.32" y1="7.4" x2="273.32" y2="11.9" stroke="#262626" stroke-width="0.7"/>
<line x1="273.32" y1="75.0" x2="273.32" y2="70.5" stroke="#262626" stroke-width="0.7"/>
<line x1="357.66" y1="7.4" x2="357.66" y2="11.9" stroke="#262626" stroke-width="0.7"/>
<line x1="357.66" y1="75.0" x2="357.66" y2="70.5" stroke="#262626" stroke-width="0.7"/>
<line x1="442.00" y1="7.4" x2="442.00" y2="11.9" stroke="#262626" stroke-width="0.7"/>
<line x1="442.00" y1="75.0" x2="442.00" y2="70.5" stroke="#262626" stroke-width="0.7"/>
<line x1="20.0" y1="75.00" x2="24.5" y2="75.00" stroke="#0072BD" stroke-width="0.7"/>
<line x1="526.0" y1="75.00" x2="521.5" y2="75.00" stroke="#D95319" stroke-width="0.7"/>
<line x1="20.0" y1="58.10" x2="24.5" y2="58.10" stroke="#0072BD" stroke-width="0.7"/>
<line x1="526.0" y1="58.10" x2="521.5" y2="58.10" stroke="#D95319" stroke-width="0.7"/>
<line x1="20.0" y1="41.20" x2="24.5" y2="41.20" stroke="#0072BD" stroke-width="0.7"/>
<line x1="526.0" y1="41.20" x2="521.5" y2="41.20" stroke="#D95319" stroke-width="0.7"/>
<line x1="20.0" y1="24.30" x2="24.5" y2="24.30" stroke="#0072BD" stroke-width="0.7"/>
<line x1="526.0" y1="24.30" x2="521.5" y2="24.30" stroke="#D95319" stroke-width="0.7"/>
<line x1="20.0" y1="7.40" x2="24.5" y2="7.40" stroke="#0072BD" stroke-width="0.7"/>
<line x1="526.0" y1="7.40" x2="521.5" y2="7.40" stroke="#D95319" stroke-width="0.7"/>
<rect x="250.5" y="11.6" width="45.2" height="19.0" fill="#fff" stroke="#262626" stroke-width="0.5"/>
<line x1="252.3" y1="17.4" x2="272.5" y2="17.4" stroke="#3d94d4" stroke-width="0.8"/>
<line x1="252.3" y1="25.5" x2="272.5" y2="25.5" stroke="#3d94d4" stroke-width="0.8" stroke-dasharray="4.5,2.6"/>
<text x="274.6" y="18.1" class="lg" fill="#262626">X<tspan dy="2.7" font-size="4.6">LM</tspan></text>
<text x="274.6" y="27.9" class="lg" fill="#262626">X -+ 3<tspan dx="0.5" font-size="6.4">σ</tspan></text>
<text x="20.3" y="84.3" text-anchor="middle" class="tk" fill="#262626">0</text>
<text x="104.6" y="84.3" text-anchor="middle" class="tk" fill="#262626">100</text>
<text x="189.0" y="84.3" text-anchor="middle" class="tk" fill="#262626">200</text>
<text x="273.3" y="84.3" text-anchor="middle" class="tk" fill="#262626">300</text>
<text x="357.7" y="84.3" text-anchor="middle" class="tk" fill="#262626">400</text>
<text x="442.0" y="84.3" text-anchor="middle" class="tk" fill="#262626">500</text>
<text x="526.3" y="84.3" text-anchor="middle" class="tk" fill="#262626">600</text>
<text x="17.5" y="9.6" text-anchor="end" class="tk" fill="#0072BD">2</text>
<text x="528.5" y="9.7" text-anchor="start" class="tk" fill="#D95319">40</text>
<text x="17.5" y="26.7" text-anchor="end" class="tk" fill="#0072BD">1</text>
<text x="528.5" y="26.7" text-anchor="start" class="tk" fill="#D95319">20</text>
<text x="17.5" y="43.8" text-anchor="end" class="tk" fill="#0072BD">0</text>
<text x="528.5" y="43.7" text-anchor="start" class="tk" fill="#D95319">0</text>
<text x="17.5" y="60.9" text-anchor="end" class="tk" fill="#0072BD">-1</text>
<text x="528.5" y="60.8" text-anchor="start" class="tk" fill="#D95319">-20</text>
<text x="17.5" y="78.0" text-anchor="end" class="tk" fill="#0072BD">-2</text>
<text x="528.5" y="77.8" text-anchor="start" class="tk" fill="#D95319">-40</text>
<text x="273" y="92.7" text-anchor="middle" class="lb" fill="#262626">Distance from Helipad, m</text>
<text transform="translate(9.7,41.2) rotate(-90)" text-anchor="middle" class="lb" fill="#0072BD">X error LM, m</text>
<text transform="translate(546.2,41.2) rotate(-90)" text-anchor="middle" class="lb" fill="#D95319">X error LM, m</text>
<path d="M20.0,138.2 L20.8,138.2 L21.6,138.1 L22.4,138.1 L23.2,138.0 L24.0,138.1 L24.8,138.1 L25.6,138.1 L26.4,138.1 L27.2,138.1 L28.0,138.1 L28.8,138.1 L29.6,138.2 L30.4,138.1 L31.2,138.1 L32.0,138.0 L32.8,138.0 L33.6,138.0 L34.4,138.0 L35.2,137.9 L36.0,137.9 L36.8,137.9 L37.6,137.9 L38.4,137.8 L39.2,137.8 L40.0,137.8 L40.8,137.8 L41.6,137.8 L42.4,137.7 L43.2,137.8 L44.0,137.7 L44.8,137.8 L45.6,137.8 L46.4,137.8 L47.2,137.8 L48.0,137.8 L48.8,137.8 L49.6,137.8 L50.4,137.7 L51.2,137.6 L52.0,137.7 L52.8,137.7 L53.6,137.6 L54.4,137.6 L55.2,137.6 L56.0,137.6 L56.8,137.6 L57.6,137.6 L58.4,137.5 L59.2,137.5 L60.0,137.5 L60.8,137.4 L61.6,137.4 L62.4,137.4 L63.2,137.4 L64.0,137.3 L64.8,137.3 L65.6,137.3 L66.4,137.3 L67.2,137.3 L68.0,137.3 L68.8,137.3 L69.6,137.3 L70.4,137.3 L71.2,137.3 L72.0,137.3 L72.8,137.2 L73.6,137.2 L74.4,137.3 L75.2,137.3 L76.0,137.2 L76.8,137.2 L77.6,137.2 L78.4,137.2 L79.2,137.2 L80.0,137.2 L80.8,137.2 L81.6,137.2 L82.4,137.2 L83.2,137.1 L84.0,137.1 L84.8,137.0 L85.6,137.0 L86.4,137.0 L87.2,137.0 L88.0,137.1 L88.8,137.0 L89.6,136.9 L90.4,136.8 L91.2,136.9 L92.0,136.7 L92.8,136.8 L93.6,136.8 L94.4,136.8 L95.2,136.7 L96.0,136.9 L96.8,136.7 L97.6,136.7 L98.4,136.8 L99.2,136.7 L100.0,136.8 L100.8,136.7 L101.6,136.7 L102.4,136.7 L103.2,136.7 L104.0,136.7 L104.8,136.7 L105.6,136.6 L106.4,136.7 L107.2,136.6 L108.0,136.6 L108.8,136.4 L109.6,136.6 L110.4,136.5 L111.2,136.6 L112.0,136.4 L112.8,136.4 L113.6,136.3 L114.4,136.4 L115.2,136.5 L116.0,136.3 L116.8,136.3 L117.6,136.4 L118.4,136.5 L119.2,136.3 L120.0,136.4 L120.8,136.2 L121.6,136.4 L122.4,136.3 L123.2,136.3 L124.0,136.4 L124.8,136.3 L125.6,136.1 L126.4,136.2 L127.2,136.2 L128.0,136.3 L128.8,136.1 L129.6,136.1 L130.4,136.1 L131.2,136.1 L132.0,136.0 L132.8,136.0 L133.6,136.1 L134.4,135.9 L135.2,136.1 L136.0,136.1 L136.8,136.0 L137.6,136.0 L138.4,136.1 L139.2,136.0 L140.0,135.9 L140.8,136.0 L141.6,135.9 L142.4,135.9 L143.2,135.8 L144.0,135.9 L144.8,135.8 L145.6,135.7 L146.4,135.9" fill="none" stroke="#0072BD" stroke-width="1.0"/>
<path d="M20.0,138.2 L20.8,138.2 L21.6,138.1 L22.4,138.1 L23.2,138.0 L24.0,138.1 L24.8,138.0 L25.6,138.1 L26.4,138.0 L27.2,138.0 L28.0,138.0 L28.8,138.0 L29.6,138.1 L30.4,138.0 L31.2,138.0 L32.0,137.9 L32.8,137.9 L33.6,137.9 L34.4,137.9 L35.2,137.8 L36.0,137.7 L36.8,137.7 L37.6,137.7 L38.4,137.7 L39.2,137.7 L40.0,137.6 L40.8,137.6 L41.6,137.6 L42.4,137.6 L43.2,137.6 L44.0,137.5 L44.8,137.6 L45.6,137.6 L46.4,137.6 L47.2,137.6 L48.0,137.6 L48.8,137.5 L49.6,137.5 L50.4,137.5 L51.2,137.4 L52.0,137.4 L52.8,137.4 L53.6,137.3 L54.4,137.3 L55.2,137.3 L56.0,137.3 L56.8,137.3 L57.6,137.3 L58.4,137.2 L59.2,137.1 L60.0,137.2 L60.8,137.1 L61.6,137.1 L62.4,137.1 L63.2,137.0 L64.0,137.0 L64.8,137.0 L65.6,136.9 L66.4,136.9 L67.2,136.9 L68.0,137.0 L68.8,136.9 L69.6,136.9 L70.4,136.9 L71.2,137.0 L72.0,136.9 L72.8,136.7 L73.6,136.8 L74.4,136.8 L75.2,137.0 L76.0,136.7 L76.8,136.8 L77.6,136.7 L78.4,136.7 L79.2,136.8 L80.0,136.8 L80.8,136.7 L81.6,136.8 L82.4,136.8 L83.2,136.6 L84.0,136.6 L84.8,136.5 L85.6,136.6 L86.4,136.6 L87.2,136.5 L88.0,136.6 L88.8,136.4 L89.6,136.4 L90.4,136.4 L91.2,136.4 L92.0,136.2 L92.8,136.3 L93.6,136.2 L94.4,136.3 L95.2,136.2 L96.0,136.3 L96.8,136.2 L97.6,136.2 L98.4,136.2 L99.2,136.3 L100.0,136.3 L100.8,136.2 L101.6,136.1 L102.4,136.1 L103.2,136.2 L104.0,136.1 L104.8,136.0 L105.6,135.9 L106.4,136.1 L107.2,136.1 L108.0,136.0 L108.8,135.8 L109.6,135.8 L110.4,135.9 L111.2,135.9 L112.0,135.6 L112.8,135.6 L113.6,135.7 L114.4,135.7 L115.2,135.8 L116.0,135.7 L116.8,135.6 L117.6,135.7 L118.4,135.8 L119.2,135.5 L120.0,135.4 L120.8,135.5 L121.6,135.5 L122.4,135.5 L123.2,135.5 L124.0,135.5 L124.8,135.5 L125.6,135.2 L126.4,135.5 L127.2,135.4 L128.0,135.6 L128.8,135.2 L129.6,135.2 L130.4,135.4 L131.2,135.3 L132.0,135.1 L132.8,135.2 L133.6,135.3 L134.4,135.3 L135.2,135.2 L136.0,135.0 L136.8,135.2 L137.6,135.1 L138.4,135.1 L139.2,135.1 L140.0,135.0 L140.8,135.0 L141.6,135.1 L142.4,134.6 L143.2,134.6 L144.0,134.9 L144.8,134.7 L145.6,134.8 L146.4,134.9" fill="none" stroke="#0072BD" stroke-width="0.9" stroke-dasharray="4,2"/>
<path d="M20.0,138.2 L20.8,138.2 L21.6,138.2 L22.4,138.1 L23.2,138.1 L24.0,138.1 L24.8,138.1 L25.6,138.1 L26.4,138.1 L27.2,138.1 L28.0,138.2 L28.8,138.2 L29.6,138.3 L30.4,138.2 L31.2,138.2 L32.0,138.1 L32.8,138.1 L33.6,138.1 L34.4,138.1 L35.2,138.0 L36.0,138.0 L36.8,138.0 L37.6,138.0 L38.4,138.0 L39.2,138.0 L40.0,138.0 L40.8,138.0 L41.6,138.0 L42.4,137.9 L43.2,138.0 L44.0,138.0 L44.8,138.0 L45.6,138.0 L46.4,138.1 L47.2,138.0 L48.0,138.0 L48.8,138.0 L49.6,138.0 L50.4,138.0 L51.2,137.9 L52.0,137.9 L52.8,138.0 L53.6,137.9 L54.4,137.9 L55.2,137.9 L56.0,137.9 L56.8,137.9 L57.6,137.9 L58.4,137.9 L59.2,137.8 L60.0,137.8 L60.8,137.8 L61.6,137.8 L62.4,137.8 L63.2,137.7 L64.0,137.7 L64.8,137.7 L65.6,137.7 L66.4,137.7 L67.2,137.6 L68.0,137.8 L68.8,137.7 L69.6,137.7 L70.4,137.7 L71.2,137.8 L72.0,137.7 L72.8,137.7 L73.6,137.5 L74.4,137.7 L75.2,137.7 L76.0,137.7 L76.8,137.7 L77.6,137.6 L78.4,137.7 L79.2,137.6 L80.0,137.6 L80.8,137.6 L81.6,137.7 L82.4,137.7 L83.2,137.6 L84.0,137.6 L84.8,137.5 L85.6,137.6 L86.4,137.5 L87.2,137.5 L88.0,137.7 L88.8,137.5 L89.6,137.2 L90.4,137.4 L91.2,137.6 L92.0,137.2 L92.8,137.4 L93.6,137.2 L94.4,137.3 L95.2,137.3 L96.0,137.5 L96.8,137.4 L97.6,137.4 L98.4,137.3 L99.2,137.4 L100.0,137.5 L100.8,137.4 L101.6,137.3 L102.4,137.4 L103.2,137.4 L104.0,137.2 L104.8,137.3 L105.6,137.3 L106.4,137.4 L107.2,137.3 L108.0,137.4 L108.8,137.1 L109.6,137.3 L110.4,137.3 L111.2,137.3 L112.0,137.1 L112.8,137.1 L113.6,137.2 L114.4,137.2 L115.2,137.3 L116.0,137.1 L116.8,137.2 L117.6,137.3 L118.4,137.1 L119.2,137.1 L120.0,137.3 L120.8,137.0 L121.6,137.3 L122.4,137.3 L123.2,137.3 L124.0,137.2 L124.8,137.2 L125.6,137.0 L126.4,137.1 L127.2,137.3 L128.0,137.3 L128.8,137.0 L129.6,137.2 L130.4,137.1 L131.2,137.1 L132.0,137.0 L132.8,137.0 L133.6,137.0 L134.4,137.0 L135.2,137.2 L136.0,137.2 L136.8,137.1 L137.6,137.0 L138.4,137.3 L139.2,137.0 L140.0,137.0 L140.8,137.2 L141.6,137.0 L142.4,137.1 L143.2,137.0 L144.0,137.2 L144.8,137.0 L145.6,136.9 L146.4,137.2" fill="none" stroke="#0072BD" stroke-width="0.9" stroke-dasharray="4,2"/>
<path d="M146.5,138.2 L147.3,138.2 L148.1,138.2 L148.9,138.2 L149.7,138.2 L150.5,138.2 L151.3,138.2 L152.1,138.2 L152.9,138.2 L153.7,138.2 L154.5,138.2 L155.3,138.2 L156.1,138.2 L156.9,138.2 L157.7,138.2 L158.5,138.2 L159.3,138.2 L160.1,138.2 L160.9,138.2 L161.7,138.2 L162.5,138.2 L163.3,138.2 L164.1,138.2 L164.9,138.2 L165.7,138.2 L166.5,138.2 L167.3,138.2 L168.1,138.2 L168.9,138.2 L169.7,138.2 L170.5,138.2 L171.3,138.2 L172.1,138.2 L172.9,138.2 L173.7,138.2 L174.5,138.2 L175.3,138.2 L176.1,138.2 L176.9,138.2 L177.7,138.2 L178.5,138.2 L179.3,138.2 L180.1,138.2 L180.9,138.2 L181.7,138.2 L182.5,138.2 L183.3,138.2 L184.1,138.2 L184.9,138.2 L185.7,138.2 L186.5,138.2 L187.3,138.2 L188.1,138.2 L188.9,138.2 L189.7,138.2 L190.5,138.2 L191.3,138.2 L192.1,138.2 L192.9,138.2 L193.7,138.4 L194.5,138.2 L195.3,138.2 L196.1,138.3 L196.9,138.2 L197.7,138.2 L198.5,138.2 L199.3,138.2 L200.1,138.2 L200.9,138.2 L201.7,138.2 L202.5,138.2 L203.3,138.2 L204.1,138.2 L204.9,138.2 L205.7,138.3 L206.5,138.2 L207.3,138.2 L208.1,138.2 L208.9,138.2 L209.7,138.2 L210.5,138.2 L211.3,138.1 L212.1,138.2 L212.9,138.2 L213.7,138.2 L214.5,138.2 L215.3,138.2 L216.1,138.2 L216.9,138.2 L217.7,138.2 L218.5,138.2 L219.3,138.2 L220.1,138.2 L220.9,138.2 L221.7,138.2 L222.5,138.2 L223.3,138.2 L224.1,138.2 L224.9,138.2 L225.7,138.2 L226.5,138.2 L227.3,138.2 L228.1,138.2 L228.9,138.2 L229.7,138.2 L230.5,138.2 L231.3,138.2 L232.1,138.2 L232.9,138.2 L233.7,138.2 L234.5,138.2 L235.3,138.2 L236.1,138.2 L236.9,138.2 L237.7,138.2 L238.5,138.2 L239.3,138.2 L240.1,138.2 L240.9,138.2 L241.7,138.2 L242.5,138.2 L243.3,138.2 L244.1,138.2 L244.9,138.2 L245.7,138.2 L246.5,138.2 L247.3,138.2 L248.1,138.2 L248.9,138.2 L249.7,138.2 L250.5,138.2 L251.3,138.2 L252.1,138.2 L252.9,138.2 L253.7,138.2 L254.5,138.2 L255.3,138.2 L256.1,138.2 L256.9,138.2 L257.7,138.2 L258.5,138.2 L259.3,138.2 L260.1,138.2 L260.9,138.2 L261.7,138.2 L262.5,138.2 L263.3,138.2 L264.1,138.2 L264.9,138.2 L265.7,138.4 L266.5,138.1 L267.3,138.1 L268.1,138.7 L268.9,138.8 L269.7,137.8 L270.5,138.2 L271.3,138.9 L272.1,138.2 L272.9,138.2 L273.7,138.3 L274.5,138.7 L275.3,138.1 L276.1,138.1 L276.9,138.1 L277.7,138.2 L278.5,138.3 L279.3,138.1 L280.1,138.3 L280.9,138.1 L281.7,138.3 L282.5,138.3 L283.3,138.2 L284.1,138.2 L284.9,138.1 L285.7,138.3 L286.5,138.1 L287.3,138.1 L288.1,137.2 L288.9,138.2 L289.7,138.2 L290.5,138.2 L291.3,138.1 L292.1,138.1 L292.9,138.3 L293.7,138.3 L294.5,138.2 L295.3,138.2 L296.1,138.1 L296.9,138.1 L297.7,138.2 L298.5,138.1 L299.3,138.1 L300.1,138.2 L300.9,138.2 L301.7,138.3 L302.5,137.5 L303.3,138.1 L304.1,138.3 L304.9,138.1 L305.7,138.2 L306.5,138.2 L307.3,138.0 L308.1,138.0 L308.9,138.0 L309.7,138.3 L310.5,138.1 L311.3,138.3 L312.1,138.2 L312.9,138.2 L313.7,138.4 L314.5,138.2 L315.3,138.0 L316.1,138.3 L316.9,138.0 L317.7,138.2 L318.5,138.1 L319.3,138.2 L320.1,138.3 L320.9,138.3 L321.7,138.3 L322.5,138.3 L323.3,138.3 L324.1,138.3 L324.9,138.2 L325.7,138.2 L326.5,138.1 L327.3,138.2 L328.1,138.1 L328.9,138.1 L329.7,138.2 L330.5,138.2" fill="none" stroke="#D95319" stroke-width="0.9" stroke-opacity="0.95"/>
<path d="M330.5,138.2 L331.3,138.3 L332.1,138.2 L332.9,138.3 L333.7,138.0 L334.5,138.3 L335.3,138.3 L336.1,138.0 L336.9,138.1 L337.7,138.3 L338.5,138.1 L339.3,138.3 L340.1,138.4 L340.9,138.3 L341.7,138.3 L342.5,138.3 L343.3,138.4 L344.1,138.5 L344.9,140.5 L345.7,138.3 L346.5,137.9 L347.3,138.5 L348.1,137.9 L348.9,138.0 L349.7,138.3 L350.5,138.0 L351.3,138.1 L352.1,138.1 L352.9,138.3 L353.7,138.2 L354.5,138.4 L355.3,138.3 L356.1,138.3 L356.9,137.9 L357.7,138.3 L358.5,138.5 L359.3,138.0 L360.1,138.4 L360.9,138.4 L361.7,141.4 L362.5,138.3 L363.3,138.1 L364.1,138.1 L364.9,138.5 L365.7,138.2 L366.5,138.2 L367.3,138.4 L368.1,138.1 L368.9,138.0 L369.7,138.4 L370.5,138.0 L371.3,138.4 L372.1,138.4 L372.9,138.2 L373.7,138.0 L374.5,138.2 L375.3,138.2 L376.1,140.2 L376.9,138.5 L377.7,138.1 L378.5,137.9 L379.3,138.5 L380.1,137.9 L380.9,138.5 L381.7,138.5 L382.5,138.5 L383.3,138.1 L384.1,138.0 L384.9,138.3 L385.7,138.2 L386.5,138.3 L387.3,138.0 L388.1,138.2 L388.9,138.4 L389.7,138.2 L390.5,138.4 L391.3,138.3 L392.1,138.1 L392.9,138.3 L393.7,138.0 L394.5,138.0 L395.3,138.3 L396.1,137.9 L396.9,137.9 L397.7,138.1 L398.5,137.9 L399.3,138.3 L400.1,138.0 L400.9,138.0 L401.7,140.7 L402.5,138.2 L403.3,138.4 L404.1,138.4 L404.9,138.5 L405.4,137.9 L405.9,137.8 L406.3,138.4 L406.7,138.1 L407.1,137.7 L407.5,138.2 L407.9,138.0 L408.3,137.9 L408.7,138.4 L409.1,138.4 L409.5,138.0 L409.9,138.3 L410.3,138.0 L410.7,138.4 L411.1,138.1 L411.5,138.2 L411.9,138.0 L412.3,138.2 L412.7,136.0 L413.1,138.3 L413.5,138.0 L413.9,138.2 L414.3,138.1 L414.7,138.5 L415.1,138.3 L415.5,138.2 L415.9,137.9 L416.3,137.9 L416.7,138.3 L417.1,138.5 L417.5,137.9 L417.9,138.1 L418.3,138.1 L418.7,137.9 L419.2,136.9 L419.8,138.2 L420.5,138.2 L421.3,138.4 L422.1,138.3 L422.9,138.0 L423.7,138.5 L424.5,138.5 L425.3,138.3 L426.1,137.9 L426.9,138.3 L427.7,137.8 L428.5,138.0 L429.3,138.2 L430.1,138.2 L430.9,138.4 L431.7,138.2 L432.5,138.3 L433.3,138.2 L434.1,138.4 L434.9,137.9 L435.7,138.6 L436.5,138.5 L437.3,138.6 L438.1,138.6 L438.9,138.5 L439.7,138.0 L440.5,138.6 L441.3,138.5 L442.1,138.2 L442.9,137.9 L443.7,138.6 L444.5,138.0 L445.3,138.0 L446.1,140.1 L446.9,138.5 L447.7,138.0 L448.5,138.0 L449.3,138.4 L450.1,138.3 L450.9,138.3 L451.7,138.3 L452.5,134.3 L453.3,138.5 L454.1,138.0 L454.9,138.1 L455.7,138.7 L456.5,138.5 L457.3,138.2 L458.1,138.0 L458.9,138.6 L459.7,138.0 L460.5,138.2 L461.3,138.3 L462.1,138.4 L462.9,138.3 L463.7,138.3 L464.5,138.0 L465.3,138.1 L466.1,138.3 L466.9,138.2 L467.7,138.4 L468.5,138.0 L469.3,138.5 L470.1,138.2 L470.9,138.1 L471.7,138.0 L472.5,138.0 L473.3,138.5 L474.1,138.4 L474.9,138.5 L475.7,138.4 L476.5,138.2 L477.3,138.0 L478.1,138.2 L478.9,138.0 L479.7,138.0 L480.5,138.2 L481.3,138.2 L482.1,138.5 L482.9,138.4 L483.7,137.9 L484.5,138.0 L485.3,138.2 L486.1,138.3 L486.9,138.4 L487.7,138.2 L488.5,138.2 L489.3,138.0 L490.1,138.2 L490.9,138.4 L491.7,138.0 L492.5,138.2 L493.3,138.4 L494.1,138.4 L494.9,137.9 L495.7,138.1 L496.5,138.0 L497.3,138.5 L498.1,138.4 L498.9,138.1 L499.7,138.1 L500.5,138.3 L501.3,137.9 L502.1,138.0 L502.9,138.4 L503.7,138.1 L504.5,138.1 L505.3,138.4 L506.1,138.3 L506.9,138.4 L507.7,138.3 L508.5,138.2 L509.3,138.1 L510.1,138.3 L510.9,139.1 L511.7,138.3 L512.5,138.3 L513.3,138.3 L514.1,138.0 L514.9,138.0 L515.7,138.4 L516.5,138.3 L517.3,138.4 L518.1,138.0 L518.9,138.2 L519.7,137.9 L520.5,138.0 L521.3,138.0 L522.1,138.0 L522.9,138.1 L523.7,138.0 L524.5,138.3 L525.3,138.2" fill="none" stroke="#D95319" stroke-width="0.77" stroke-opacity="0.95"/>
<path d="M146.5,138.2 L147.3,138.2 L148.1,138.2 L148.9,138.3 L149.7,138.1 L150.5,138.1 L151.3,138.1 L152.1,138.2 L152.9,138.1 L153.7,138.2 L154.5,138.1 L155.3,138.2 L156.1,138.2 L156.9,138.2 L157.7,138.3 L158.5,138.2 L159.3,138.2 L160.1,138.2 L160.9,138.2 L161.7,138.2 L162.5,138.1 L163.3,138.3 L164.1,138.2 L164.9,138.2 L165.7,138.2 L166.5,138.2 L167.3,138.1 L168.1,138.3 L168.9,138.2 L169.7,138.2 L170.5,138.2 L171.3,138.2 L172.1,138.1 L172.9,138.2 L173.7,138.2 L174.5,138.2 L175.3,138.2 L176.1,138.3 L176.9,138.2 L177.7,138.2 L178.5,138.2 L179.3,138.2 L180.1,138.2 L180.9,138.0 L181.7,138.2 L182.5,138.2 L183.3,138.2 L184.1,138.2 L184.9,138.2 L185.7,138.2 L186.5,138.2 L187.3,138.2 L188.1,138.3 L188.9,138.2 L189.7,138.2 L190.5,138.2 L191.3,138.2 L192.1,138.3 L192.9,137.9 L193.7,138.2 L194.5,138.0 L195.3,138.1 L196.1,138.2 L196.9,138.2 L197.7,138.1 L198.5,138.0 L199.3,138.2 L200.1,138.2 L200.9,138.2 L201.7,138.2 L202.5,138.2 L203.3,138.2 L204.1,138.1 L204.9,138.2 L205.7,138.2 L206.5,138.2 L207.3,138.1 L208.1,138.2 L208.9,138.1 L209.7,138.1 L210.5,138.0 L211.3,138.0 L212.1,138.2 L212.9,138.1 L213.7,138.1 L214.5,138.1 L215.3,138.1 L216.1,138.1 L216.9,138.2 L217.7,138.3 L218.5,138.1 L219.3,138.2 L220.1,138.2 L220.9,138.1 L221.7,138.2 L222.5,138.1 L223.3,138.2 L224.1,138.0 L224.9,138.2 L225.7,138.4 L226.5,138.1 L227.3,138.2 L228.1,138.3 L228.9,138.2 L229.7,138.2 L230.5,138.1 L231.3,138.1 L232.1,138.2 L232.9,138.2 L233.7,138.1 L234.5,138.1 L235.3,138.2 L236.1,138.3 L236.9,138.1 L237.7,138.2 L238.5,137.9 L239.3,137.9 L240.1,138.0 L240.9,138.2 L241.7,138.1 L242.5,138.2 L243.3,138.1 L244.1,137.8 L244.9,138.2 L245.7,137.9 L246.5,138.4 L247.3,138.1 L248.1,138.1 L248.9,138.5 L249.7,138.1 L250.5,137.9 L251.3,138.5 L252.1,138.4 L252.9,138.4 L253.7,138.5 L254.5,138.2 L255.3,138.1 L256.1,138.1 L256.9,138.1 L257.7,138.7 L258.5,138.4 L259.3,138.2 L260.1,138.1 L260.9,138.2 L261.7,138.2 L262.5,138.1 L263.3,138.1 L264.1,138.5 L264.9,138.5 L265.7,138.8 L266.5,138.1 L267.3,138.2 L268.1,138.1 L268.9,138.1 L269.7,138.0 L270.5,138.2 L271.3,138.2 L272.1,138.2 L272.9,138.4 L273.7,138.1 L274.5,138.2 L275.3,138.2 L276.1,138.2 L276.9,138.2 L277.7,138.0 L278.5,138.2 L279.3,138.2 L280.1,138.2 L280.9,138.2 L281.7,137.1 L282.5,138.0 L283.3,138.6 L284.1,138.3 L284.9,138.1 L285.7,138.0 L286.5,138.1 L287.3,138.3 L288.1,137.9 L288.9,137.9 L289.7,138.0 L290.5,139.0 L291.3,136.9 L292.1,137.9 L292.9,138.1 L293.7,139.6 L294.5,138.0 L295.3,138.1 L296.1,139.5 L296.9,139.2 L297.7,138.1 L298.5,138.1 L299.3,138.1 L300.1,139.2 L300.9,138.0 L301.7,138.7 L302.5,138.1 L303.3,139.1 L304.1,137.4 L304.9,138.0 L305.7,139.3 L306.5,138.1 L307.3,138.0 L308.1,138.4 L308.9,138.1 L309.7,138.1 L310.5,138.0 L311.3,137.8 L312.1,138.0 L312.9,138.3 L313.7,137.9 L314.5,139.2 L315.3,138.2 L316.1,138.1 L316.9,138.1 L317.7,138.0 L318.5,139.6 L319.3,138.1 L320.1,138.1 L320.9,139.6 L321.7,138.0 L322.5,139.2 L323.3,138.0 L324.1,137.9 L324.9,137.4 L325.7,139.4 L326.5,138.2 L327.3,138.2 L328.1,137.9 L328.9,138.2 L329.7,137.9 L330.5,136.7" fill="none" stroke="#D95319" stroke-width="0.7" stroke-dasharray="5.5,2.5" stroke-opacity="0.9"/>
<path d="M330.5,136.7 L331.3,138.0 L332.1,137.9 L332.9,137.9 L333.7,138.3 L334.5,137.9 L335.3,138.3 L336.1,137.9 L336.9,138.1 L337.7,137.9 L338.5,138.2 L339.3,137.9 L340.1,139.3 L340.9,137.9 L341.7,137.2 L342.5,138.0 L343.3,138.4 L344.1,137.8 L344.9,135.7 L345.7,138.3 L346.5,138.4 L347.3,140.2 L348.1,138.0 L348.9,137.7 L349.7,138.0 L350.5,137.7 L351.3,139.7 L352.1,136.5 L352.9,138.4 L353.7,138.2 L354.5,137.7 L355.3,137.7 L356.1,138.0 L356.9,136.6 L357.7,137.7 L358.5,138.1 L359.3,138.2 L360.1,138.1 L360.9,138.1 L361.7,137.9 L362.5,138.0 L363.3,135.1 L364.1,138.1 L364.9,137.9 L365.7,138.2 L366.5,135.4 L367.3,136.2 L368.1,135.5 L368.9,136.6 L369.7,139.8 L370.5,138.0 L371.3,138.1 L372.1,139.8 L372.9,138.4 L373.7,140.3 L374.5,138.2 L375.3,138.2 L376.1,139.7 L376.9,137.8 L377.7,135.7 L378.5,137.8 L379.3,138.1 L380.1,135.6 L380.9,137.8 L381.7,136.4 L382.5,137.9 L383.3,137.6 L384.1,138.4 L384.9,135.1 L385.7,137.7 L386.5,135.7 L387.3,135.3 L388.1,137.7 L388.9,138.2 L389.7,137.9 L390.5,137.0 L391.3,137.8 L392.1,138.2 L392.9,137.9 L393.7,138.0 L394.5,137.8 L395.3,138.1 L396.1,138.4 L396.9,138.1 L397.7,136.3 L398.5,138.3 L399.3,138.1 L400.1,134.3 L400.9,137.8 L401.7,135.3 L402.5,137.7 L403.3,138.3 L404.1,138.0 L404.9,138.3 L405.4,138.1 L405.9,137.6 L406.3,135.8 L406.7,134.9 L407.1,138.6 L407.5,140.9 L407.9,135.3 L408.3,137.9 L408.7,138.1 L409.1,137.5 L409.5,141.3 L409.9,134.8 L410.3,141.0 L410.7,137.9 L411.1,136.8 L411.5,138.0 L411.9,139.2 L412.3,138.2 L412.7,136.2 L413.1,138.1 L413.5,138.2 L413.9,140.7 L414.3,138.1 L414.7,137.7 L415.1,137.6 L415.5,138.4 L415.9,137.8 L416.3,138.5 L416.7,137.9 L417.1,137.6 L417.5,141.2 L417.9,136.4 L418.3,136.0 L418.7,140.5 L419.2,138.2 L419.8,137.7 L420.5,138.4 L421.3,140.9 L422.1,137.7 L422.9,137.9 L423.7,138.1 L424.5,135.4 L425.3,138.3 L426.1,137.9 L426.9,139.5 L427.7,137.8 L428.5,137.8 L429.3,137.8 L430.1,139.7 L430.9,138.5 L431.7,141.4 L432.5,137.7 L433.3,137.9 L434.1,138.0 L434.9,141.5 L435.7,137.6 L436.5,133.8 L437.3,136.1 L438.1,134.3 L438.9,142.1 L439.7,137.7 L440.5,136.1 L441.3,135.0 L442.1,138.2 L442.9,135.4 L443.7,134.5 L444.5,137.8 L445.3,138.3 L446.1,137.6 L446.9,136.3 L447.7,138.4 L448.5,142.2 L449.3,137.6 L450.1,133.7 L450.9,141.9 L451.7,138.2 L452.5,137.7 L453.3,140.5 L454.1,140.5 L454.9,138.4 L455.7,138.1 L456.5,142.2 L457.3,138.5 L458.1,138.5 L458.9,137.8 L459.7,137.6 L460.5,137.9 L461.3,135.4 L462.1,137.8 L462.9,137.8 L463.7,138.0 L464.5,138.4 L465.3,138.1 L466.1,138.0 L466.9,138.3 L467.7,140.1 L468.5,136.5 L469.3,138.2 L470.1,137.8 L470.9,139.6 L471.7,138.2 L472.5,139.2 L473.3,136.6 L474.1,138.0 L474.9,138.3 L475.7,140.8 L476.5,137.8 L477.3,140.5 L478.1,139.7 L478.9,137.9 L479.7,138.4 L480.5,137.9 L481.3,138.0 L482.1,138.1 L482.9,137.7 L483.7,136.0 L484.5,137.9 L485.3,135.7 L486.1,139.8 L486.9,139.0 L487.7,138.0 L488.5,137.7 L489.3,137.8 L490.1,138.2 L490.9,139.2 L491.7,140.0 L492.5,138.0 L493.3,135.9 L494.1,138.3 L494.9,138.1 L495.7,135.4 L496.5,138.0 L497.3,139.2 L498.1,139.2 L498.9,137.9 L499.7,137.8 L500.5,139.2 L501.3,138.1 L502.1,139.4 L502.9,137.8 L503.7,139.2 L504.5,137.9 L505.3,139.9 L506.1,140.0 L506.9,137.7 L507.7,138.0 L508.5,139.6 L509.3,138.1 L510.1,138.2 L510.9,137.7 L511.7,138.1 L512.5,137.0 L513.3,139.8 L514.1,136.4 L514.9,138.1 L515.7,138.2 L516.5,138.2 L517.3,137.8 L518.1,137.7 L518.9,138.1 L519.7,136.2 L520.5,136.7 L521.3,137.9 L522.1,138.0 L522.9,138.2 L523.7,137.7 L524.5,138.1 L525.3,138.1" fill="none" stroke="#D95319" stroke-width="0.59" stroke-dasharray="5.5,2.5" stroke-opacity="0.9"/>
<path d="M146.5,138.1 L147.3,138.2 L148.1,138.3 L148.9,138.2 L149.7,138.2 L150.5,138.2 L151.3,138.2 L152.1,138.3 L152.9,138.2 L153.7,138.3 L154.5,138.2 L155.3,138.3 L156.1,138.2 L156.9,138.3 L157.7,138.2 L158.5,138.3 L159.3,138.2 L160.1,138.1 L160.9,138.2 L161.7,138.1 L162.5,138.2 L163.3,138.2 L164.1,138.2 L164.9,138.2 L165.7,138.1 L166.5,138.2 L167.3,138.3 L168.1,138.2 L168.9,138.3 L169.7,138.1 L170.5,138.2 L171.3,138.2 L172.1,138.2 L172.9,138.3 L173.7,138.2 L174.5,138.2 L175.3,138.2 L176.1,138.3 L176.9,138.1 L177.7,138.2 L178.5,138.2 L179.3,138.2 L180.1,138.2 L180.9,138.2 L181.7,138.2 L182.5,138.2 L183.3,138.3 L184.1,138.0 L184.9,138.5 L185.7,138.2 L186.5,138.5 L187.3,138.4 L188.1,138.2 L188.9,138.2 L189.7,138.2 L190.5,138.2 L191.3,138.2 L192.1,138.2 L192.9,138.3 L193.7,138.3 L194.5,138.2 L195.3,138.1 L196.1,138.2 L196.9,138.2 L197.7,138.1 L198.5,138.2 L199.3,138.1 L200.1,138.2 L200.9,138.2 L201.7,138.1 L202.5,138.3 L203.3,138.2 L204.1,138.2 L204.9,138.3 L205.7,138.3 L206.5,138.2 L207.3,138.2 L208.1,138.2 L208.9,138.3 L209.7,138.2 L210.5,138.4 L211.3,138.3 L212.1,138.2 L212.9,138.1 L213.7,138.3 L214.5,138.2 L215.3,138.4 L216.1,138.3 L216.9,138.3 L217.7,138.3 L218.5,138.1 L219.3,138.3 L220.1,138.3 L220.9,138.3 L221.7,138.0 L222.5,138.2 L223.3,138.2 L224.1,138.5 L224.9,138.3 L225.7,138.2 L226.5,138.2 L227.3,138.3 L228.1,138.3 L228.9,138.3 L229.7,138.2 L230.5,138.1 L231.3,138.2 L232.1,138.3 L232.9,138.3 L233.7,138.5 L234.5,138.3 L235.3,138.0 L236.1,138.6 L236.9,138.1 L237.7,138.4 L238.5,138.3 L239.3,138.2 L240.1,138.3 L240.9,138.3 L241.7,138.3 L242.5,138.2 L243.3,138.5 L244.1,138.3 L244.9,138.2 L245.7,138.5 L246.5,138.2 L247.3,138.6 L248.1,138.3 L248.9,137.9 L249.7,138.3 L250.5,138.3 L251.3,138.3 L252.1,138.7 L252.9,138.3 L253.7,138.2 L254.5,138.3 L255.3,138.7 L256.1,138.3 L256.9,138.7 L257.7,138.2 L258.5,138.3 L259.3,138.3 L260.1,138.2 L260.9,138.2 L261.7,138.2 L262.5,138.6 L263.3,138.3 L264.1,138.3 L264.9,138.4 L265.7,137.8 L266.5,138.2 L267.3,138.8 L268.1,138.3 L268.9,138.3 L269.7,138.3 L270.5,138.2 L271.3,137.8 L272.1,138.2 L272.9,137.6 L273.7,138.3 L274.5,138.3 L275.3,138.7 L276.1,138.2 L276.9,138.4 L277.7,137.5 L278.5,138.2 L279.3,138.2 L280.1,137.7 L280.9,138.4 L281.7,139.5 L282.5,138.2 L283.3,137.5 L284.1,138.1 L284.9,139.3 L285.7,138.5 L286.5,138.4 L287.3,138.5 L288.1,138.1 L288.9,138.2 L289.7,138.3 L290.5,138.1 L291.3,137.2 L292.1,137.3 L292.9,138.3 L293.7,137.0 L294.5,138.3 L295.3,137.7 L296.1,138.2 L296.9,138.4 L297.7,139.6 L298.5,139.4 L299.3,138.2 L300.1,138.2 L300.9,138.4 L301.7,138.4 L302.5,138.2 L303.3,138.2 L304.1,138.2 L304.9,138.5 L305.7,138.5 L306.5,137.3 L307.3,139.9 L308.1,138.1 L308.9,138.1 L309.7,138.6 L310.5,137.1 L311.3,138.1 L312.1,138.3 L312.9,138.2 L313.7,138.6 L314.5,138.4 L315.3,138.3 L316.1,138.3 L316.9,137.3 L317.7,138.1 L318.5,138.2 L319.3,136.9 L320.1,137.2 L320.9,138.4 L321.7,137.5 L322.5,138.3 L323.3,139.0 L324.1,138.2 L324.9,138.2 L325.7,138.2 L326.5,139.0 L327.3,139.7 L328.1,139.6 L328.9,138.4 L329.7,138.3 L330.5,137.1" fill="none" stroke="#D95319" stroke-width="0.7" stroke-dasharray="5.5,2.5" stroke-opacity="0.9"/>
<path d="M330.5,137.1 L331.3,138.5 L332.1,138.5 L332.9,138.2 L333.7,138.4 L334.5,139.8 L335.3,136.6 L336.1,138.3 L336.9,139.3 L337.7,138.3 L338.5,140.1 L339.3,138.2 L340.1,138.4 L340.9,140.3 L341.7,138.3 L342.5,138.5 L343.3,138.2 L344.1,138.4 L344.9,138.4 L345.7,137.0 L346.5,140.9 L347.3,138.0 L348.1,138.1 L348.9,141.0 L349.7,138.6 L350.5,138.5 L351.3,138.7 L352.1,138.5 L352.9,138.3 L353.7,138.3 L354.5,138.7 L355.3,138.3 L356.1,138.4 L356.9,138.6 L357.7,138.0 L358.5,138.2 L359.3,138.6 L360.1,138.1 L360.9,138.1 L361.7,138.1 L362.5,136.2 L363.3,138.7 L364.1,136.2 L364.9,138.3 L365.7,138.2 L366.5,138.2 L367.3,138.2 L368.1,138.4 L368.9,136.6 L369.7,138.1 L370.5,138.0 L371.3,138.1 L372.1,138.4 L372.9,136.3 L373.7,138.6 L374.5,138.3 L375.3,138.0 L376.1,138.4 L376.9,138.6 L377.7,138.3 L378.5,138.7 L379.3,138.6 L380.1,137.1 L380.9,138.7 L381.7,138.0 L382.5,138.6 L383.3,138.1 L384.1,138.0 L384.9,141.3 L385.7,138.5 L386.5,138.8 L387.3,138.1 L388.1,138.6 L388.9,138.3 L389.7,138.1 L390.5,138.5 L391.3,139.3 L392.1,138.1 L392.9,136.3 L393.7,139.3 L394.5,138.5 L395.3,138.6 L396.1,138.3 L396.9,136.2 L397.7,138.6 L398.5,138.2 L399.3,138.0 L400.1,138.5 L400.9,134.8 L401.7,138.4 L402.5,138.6 L403.3,141.4 L404.1,138.3 L404.9,138.3 L405.4,138.4 L405.9,138.3 L406.3,134.5 L406.7,141.1 L407.1,138.4 L407.5,142.6 L407.9,137.9 L408.3,140.4 L408.7,133.7 L409.1,142.7 L409.5,138.7 L409.9,138.6 L410.3,138.7 L410.7,138.5 L411.1,138.3 L411.5,139.4 L411.9,138.2 L412.3,138.5 L412.7,138.5 L413.1,138.3 L413.5,138.4 L413.9,138.4 L414.3,138.7 L414.7,138.5 L415.1,136.0 L415.5,138.2 L415.9,138.7 L416.3,136.5 L416.7,138.3 L417.1,138.2 L417.5,138.3 L417.9,138.5 L418.3,138.6 L418.7,138.6 L419.2,138.1 L419.8,138.2 L420.5,138.2 L421.3,140.1 L422.1,138.8 L422.9,138.0 L423.7,138.7 L424.5,136.0 L425.3,136.7 L426.1,138.8 L426.9,138.5 L427.7,141.1 L428.5,138.5 L429.3,136.9 L430.1,138.4 L430.9,138.2 L431.7,138.1 L432.5,138.1 L433.3,137.9 L434.1,138.4 L434.9,138.8 L435.7,138.6 L436.5,141.1 L437.3,138.4 L438.1,138.9 L438.9,138.3 L439.7,138.8 L440.5,134.6 L441.3,138.0 L442.1,138.5 L442.9,138.2 L443.7,138.1 L444.5,134.8 L445.3,138.7 L446.1,138.6 L446.9,138.9 L447.7,138.0 L448.5,134.9 L449.3,138.9 L450.1,138.6 L450.9,138.4 L451.7,138.7 L452.5,135.0 L453.3,138.4 L454.1,138.4 L454.9,137.9 L455.7,138.1 L456.5,141.6 L457.3,138.9 L458.1,134.6 L458.9,138.6 L459.7,134.8 L460.5,136.5 L461.3,138.0 L462.1,134.9 L462.9,138.3 L463.7,138.7 L464.5,135.7 L465.3,138.8 L466.1,138.8 L466.9,138.7 L467.7,138.2 L468.5,138.4 L469.3,135.9 L470.1,138.3 L470.9,140.9 L471.7,138.3 L472.5,135.8 L473.3,138.1 L474.1,138.4 L474.9,138.1 L475.7,140.9 L476.5,138.8 L477.3,138.5 L478.1,138.5 L478.9,138.7 L479.7,140.7 L480.5,138.3 L481.3,138.8 L482.1,138.1 L482.9,138.4 L483.7,138.5 L484.5,138.3 L485.3,138.5 L486.1,138.2 L486.9,138.6 L487.7,140.2 L488.5,138.4 L489.3,138.3 L490.1,138.4 L490.9,136.7 L491.7,138.2 L492.5,138.4 L493.3,138.6 L494.1,138.7 L494.9,138.1 L495.7,138.4 L496.5,138.5 L497.3,138.3 L498.1,138.2 L498.9,141.1 L499.7,139.6 L500.5,138.5 L501.3,138.3 L502.1,137.3 L502.9,138.2 L503.7,135.9 L504.5,138.4 L505.3,140.1 L506.1,138.5 L506.9,138.2 L507.7,138.3 L508.5,139.4 L509.3,138.2 L510.1,138.3 L510.9,138.4 L511.7,140.6 L512.5,140.6 L513.3,138.4 L514.1,139.3 L514.9,138.3 L515.7,138.2 L516.5,136.2 L517.3,138.3 L518.1,140.4 L518.9,138.7 L519.7,138.3 L520.5,136.5 L521.3,138.6 L522.1,136.6 L522.9,136.4 L523.7,138.5 L524.5,138.3 L525.3,138.4" fill="none" stroke="#D95319" stroke-width="0.59" stroke-dasharray="5.5,2.5" stroke-opacity="0.9"/>
<path d="M356.0,134.2 L356.4,139.2 M430.0,134.2 L430.4,140.2 M447.0,135.2 L447.4,141.2 M458.0,134.2 L458.4,139.2" fill="none" stroke="#D95319" stroke-width="0.9" stroke-dasharray="5,2"/>
<line x1="146.2" y1="104.4" x2="146.2" y2="172.0" stroke="#3a3a3a" stroke-width="0.9" stroke-dasharray="4.2,4.3" stroke-dashoffset="7.1"/>
<line x1="315.0" y1="104.4" x2="315.0" y2="172.0" stroke="#3a3a3a" stroke-width="0.85"/>
<line x1="20.0" y1="104.40" x2="526.0" y2="104.40" stroke="#262626" stroke-width="0.8"/>
<line x1="20.0" y1="172.00" x2="526.0" y2="172.00" stroke="#262626" stroke-width="0.95"/>
<line x1="20.00" y1="104.1" x2="20.00" y2="172.3" stroke="#0072BD" stroke-width="0.9"/>
<line x1="526.05" y1="104.1" x2="526.05" y2="172.3" stroke="#D95319" stroke-width="0.95"/>
<line x1="104.64" y1="104.4" x2="104.64" y2="108.9" stroke="#262626" stroke-width="0.7"/>
<line x1="104.64" y1="172.0" x2="104.64" y2="167.5" stroke="#262626" stroke-width="0.7"/>
<line x1="188.98" y1="104.4" x2="188.98" y2="108.9" stroke="#262626" stroke-width="0.7"/>
<line x1="188.98" y1="172.0" x2="188.98" y2="167.5" stroke="#262626" stroke-width="0.7"/>
<line x1="273.32" y1="104.4" x2="273.32" y2="108.9" stroke="#262626" stroke-width="0.7"/>
<line x1="273.32" y1="172.0" x2="273.32" y2="167.5" stroke="#262626" stroke-width="0.7"/>
<line x1="357.66" y1="104.4" x2="357.66" y2="108.9" stroke="#262626" stroke-width="0.7"/>
<line x1="357.66" y1="172.0" x2="357.66" y2="167.5" stroke="#262626" stroke-width="0.7"/>
<line x1="442.00" y1="104.4" x2="442.00" y2="108.9" stroke="#262626" stroke-width="0.7"/>
<line x1="442.00" y1="172.0" x2="442.00" y2="167.5" stroke="#262626" stroke-width="0.7"/>
<line x1="20.0" y1="172.00" x2="24.5" y2="172.00" stroke="#0072BD" stroke-width="0.7"/>
<line x1="526.0" y1="172.00" x2="521.5" y2="172.00" stroke="#D95319" stroke-width="0.7"/>
<line x1="20.0" y1="155.10" x2="24.5" y2="155.10" stroke="#0072BD" stroke-width="0.7"/>
<line x1="526.0" y1="155.10" x2="521.5" y2="155.10" stroke="#D95319" stroke-width="0.7"/>
<line x1="20.0" y1="138.20" x2="24.5" y2="138.20" stroke="#0072BD" stroke-width="0.7"/>
<line x1="526.0" y1="138.20" x2="521.5" y2="138.20" stroke="#D95319" stroke-width="0.7"/>
<line x1="20.0" y1="121.30" x2="24.5" y2="121.30" stroke="#0072BD" stroke-width="0.7"/>
<line x1="526.0" y1="121.30" x2="521.5" y2="121.30" stroke="#D95319" stroke-width="0.7"/>
<line x1="20.0" y1="104.40" x2="24.5" y2="104.40" stroke="#0072BD" stroke-width="0.7"/>
<line x1="526.0" y1="104.40" x2="521.5" y2="104.40" stroke="#D95319" stroke-width="0.7"/>
<rect x="250.5" y="108.6" width="45.2" height="19.0" fill="#fff" stroke="#262626" stroke-width="0.5"/>
<line x1="252.3" y1="114.4" x2="272.5" y2="114.4" stroke="#3d94d4" stroke-width="0.8"/>
<line x1="252.3" y1="122.5" x2="272.5" y2="122.5" stroke="#3d94d4" stroke-width="0.8" stroke-dasharray="4.5,2.6"/>
<text x="274.6" y="115.1" class="lg" fill="#262626">Y<tspan dy="2.7" font-size="4.6">LM</tspan></text>
<text x="274.6" y="124.9" class="lg" fill="#262626">Y -+ 3<tspan dx="0.5" font-size="6.4">σ</tspan></text>
<text x="20.3" y="181.3" text-anchor="middle" class="tk" fill="#262626">0</text>
<text x="104.6" y="181.3" text-anchor="middle" class="tk" fill="#262626">100</text>
<text x="189.0" y="181.3" text-anchor="middle" class="tk" fill="#262626">200</text>
<text x="273.3" y="181.3" text-anchor="middle" class="tk" fill="#262626">300</text>
<text x="357.7" y="181.3" text-anchor="middle" class="tk" fill="#262626">400</text>
<text x="442.0" y="181.3" text-anchor="middle" class="tk" fill="#262626">500</text>
<text x="526.3" y="181.3" text-anchor="middle" class="tk" fill="#262626">600</text>
<text x="17.5" y="106.6" text-anchor="end" class="tk" fill="#0072BD">2</text>
<text x="528.5" y="106.7" text-anchor="start" class="tk" fill="#D95319">40</text>
<text x="17.5" y="123.7" text-anchor="end" class="tk" fill="#0072BD">1</text>
<text x="528.5" y="123.7" text-anchor="start" class="tk" fill="#D95319">20</text>
<text x="17.5" y="140.8" text-anchor="end" class="tk" fill="#0072BD">0</text>
<text x="528.5" y="140.8" text-anchor="start" class="tk" fill="#D95319">0</text>
<text x="17.5" y="157.9" text-anchor="end" class="tk" fill="#0072BD">-1</text>
<text x="528.5" y="157.8" text-anchor="start" class="tk" fill="#D95319">-20</text>
<text x="17.5" y="175.0" text-anchor="end" class="tk" fill="#0072BD">-2</text>
<text x="528.5" y="174.8" text-anchor="start" class="tk" fill="#D95319">-40</text>
<text x="273" y="189.7" text-anchor="middle" class="lb" fill="#262626">Distance from Helipad, m</text>
<text transform="translate(9.7,138.2) rotate(-90)" text-anchor="middle" class="lb" fill="#0072BD">Y error LM, m</text>
<text transform="translate(546.2,138.2) rotate(-90)" text-anchor="middle" class="lb" fill="#D95319">Y error LM, m</text>
<path d="M20.0,235.4 L20.8,235.8 L21.6,235.3 L22.4,235.3 L23.2,235.1 L24.0,235.1 L24.8,234.9 L25.6,235.0 L26.4,235.0 L27.2,234.8 L28.0,234.6 L28.8,234.6 L29.6,234.5 L30.4,234.3 L31.2,234.3 L32.0,234.5 L32.8,234.5 L33.6,234.8 L34.4,234.4 L35.2,234.6 L36.0,234.4 L36.8,234.5 L37.6,234.2 L38.4,234.1 L39.2,234.3 L40.0,234.1 L40.8,234.5 L41.6,234.3 L42.4,234.8 L43.2,234.7 L44.0,234.7 L44.8,234.9 L45.6,235.0 L46.4,235.0 L47.2,234.9 L48.0,234.6 L48.8,234.6 L49.6,234.6 L50.4,234.7 L51.2,234.4 L52.0,234.7 L52.8,234.5 L53.6,234.5 L54.4,234.3 L55.2,234.3 L56.0,234.2 L56.8,234.2 L57.6,234.2 L58.4,233.9 L59.2,233.6 L60.0,233.7 L60.8,233.5 L61.6,233.5 L62.4,233.2 L63.2,233.1 L64.0,233.0 L64.8,233.0 L65.6,232.7 L66.4,233.0 L67.2,233.0 L68.0,233.1 L68.8,232.9 L69.6,233.0 L70.4,233.0 L71.2,232.7 L72.0,232.5 L72.8,232.5 L73.6,233.1 L74.4,232.7 L75.2,232.7 L76.0,232.8 L76.8,232.6 L77.6,232.2 L78.4,232.6 L79.2,232.7 L80.0,232.3 L80.8,232.4 L81.6,232.3 L82.4,232.4 L83.2,232.2 L84.0,232.0 L84.8,232.4 L85.6,232.4 L86.4,231.8 L87.2,231.9 L88.0,232.2 L88.8,232.4 L89.6,232.3 L90.4,232.5 L91.2,232.3 L92.0,231.9 L92.8,232.2 L93.6,231.9 L94.4,232.1 L95.2,232.0 L96.0,231.7 L96.8,232.2 L97.6,231.9 L98.4,231.9 L99.2,231.7 L100.0,231.4 L100.8,231.6 L101.6,232.2 L102.4,231.9 L103.2,232.1 L104.0,232.2 L104.8,231.5 L105.6,232.3 L106.4,232.0 L107.2,232.2 L108.0,231.9 L108.8,232.0 L109.6,232.1 L110.4,232.1 L111.2,231.8 L112.0,232.3 L112.8,232.4 L113.6,232.6 L114.4,232.1 L115.2,232.6 L116.0,232.8 L116.8,232.8 L117.6,232.0 L118.4,232.7 L119.2,232.5 L120.0,232.6 L120.8,232.6 L121.6,232.8 L122.4,232.7 L123.2,232.8 L124.0,233.4 L124.8,232.2 L125.6,232.6 L126.4,232.8 L127.2,232.7 L128.0,232.8 L128.8,232.1 L129.6,232.3 L130.4,231.9 L131.2,232.3 L132.0,231.6 L132.8,231.0 L133.6,231.4 L134.4,230.9 L135.2,230.9 L136.0,230.4 L136.8,230.2 L137.6,230.3 L138.4,230.3 L139.2,230.0 L140.0,229.9 L140.8,230.0 L141.6,229.6 L142.4,229.4 L143.2,229.6 L144.0,229.2 L144.8,228.1 L145.6,228.5 L146.4,228.6" fill="none" stroke="#0072BD" stroke-width="1.0"/>
<path d="M49.6,234.6 L50.4,234.7 L51.2,234.4 L52.0,234.7 L52.8,234.5 L53.6,234.5 L54.4,234.3 L55.2,234.3 L56.0,234.2 L56.8,234.2 L57.6,234.2 L58.4,233.8 L59.2,233.5 L60.0,233.6 L60.8,233.2 L61.6,233.2 L62.4,232.8 L63.2,232.8 L64.0,232.6 L64.8,232.4 L65.6,231.9 L66.4,232.3 L67.2,232.5 L68.0,232.2 L68.8,232.1 L69.6,232.4 L70.4,232.1 L71.2,231.6 L72.0,231.2 L72.8,230.9 L73.6,231.4 L74.4,231.1 L75.2,231.3 L76.0,231.1 L76.8,230.9 L77.6,230.1 L78.4,230.9 L79.2,230.8 L80.0,230.0 L80.8,230.2 L81.6,230.3 L82.4,230.1 L83.2,229.9 L84.0,229.6 L84.8,229.9 L85.6,229.9 L86.4,229.4 L87.2,229.6 L88.0,230.2 L88.8,230.0 L89.6,229.5 L90.4,229.9 L91.2,229.9 L92.0,229.4 L92.8,229.8 L93.6,229.2 L94.4,228.9 L95.2,228.8 L96.0,228.6 L96.8,229.2 L97.6,229.2 L98.4,229.4 L99.2,228.9 L100.0,228.6 L100.8,228.5 L101.6,229.3 L102.4,229.2 L103.2,229.1 L104.0,228.5 L104.8,229.0 L105.6,229.1 L106.4,229.0 L107.2,229.5 L108.0,229.3 L108.8,229.2 L109.6,229.3 L110.4,229.2 L111.2,228.9 L112.0,229.5 L112.8,229.9 L113.6,229.8 L114.4,229.6 L115.2,230.3 L116.0,229.9 L116.8,230.4 L117.6,229.8 L118.4,230.1 L119.2,230.6 L120.0,230.0 L120.8,230.2 L121.6,230.9 L122.4,230.9 L123.2,230.6 L124.0,231.7 L124.8,231.0 L125.6,231.1 L126.4,230.9 L127.2,230.1 L128.0,229.5 L128.8,228.1 L129.6,227.5 L130.4,227.0 L131.2,226.2 L132.0,226.3 L132.8,224.8 L133.6,224.8 L134.4,224.4 L135.2,224.3 L136.0,223.1 L136.8,221.8 L137.6,222.0 L138.4,222.0 L139.2,220.9 L140.0,220.8 L140.8,220.8 L141.6,218.9 L142.4,217.7 L143.2,217.3 L144.0,216.6 L144.8,215.4 L145.6,214.1 L146.4,214.1" fill="none" stroke="#0072BD" stroke-width="0.9" stroke-dasharray="4,2"/>
<path d="M49.6,234.6 L50.4,234.7 L51.2,234.4 L52.0,234.7 L52.8,234.5 L53.6,234.5 L54.4,234.3 L55.2,234.3 L56.0,234.2 L56.8,234.2 L57.6,234.3 L58.4,234.0 L59.2,233.8 L60.0,234.0 L60.8,233.9 L61.6,234.0 L62.4,233.8 L63.2,233.9 L64.0,233.7 L64.8,233.8 L65.6,233.5 L66.4,234.1 L67.2,234.1 L68.0,234.0 L68.8,233.9 L69.6,234.0 L70.4,234.3 L71.2,233.7 L72.0,233.7 L72.8,233.9 L73.6,234.4 L74.4,234.3 L75.2,234.5 L76.0,234.6 L76.8,234.8 L77.6,234.2 L78.4,234.5 L79.2,235.2 L80.0,234.4 L80.8,234.8 L81.6,234.7 L82.4,234.7 L83.2,234.5 L84.0,234.2 L84.8,235.0 L85.6,234.5 L86.4,234.5 L87.2,234.5 L88.0,234.8 L88.8,235.4 L89.6,235.5 L90.4,235.4 L91.2,235.2 L92.0,234.7 L92.8,235.4 L93.6,234.6 L94.4,235.4 L95.2,235.4 L96.0,234.7 L96.8,235.2 L97.6,235.6 L98.4,235.1 L99.2,235.6 L100.0,234.9 L100.8,234.5 L101.6,235.3 L102.4,235.2 L103.2,235.4 L104.0,235.9 L104.8,234.8 L105.6,235.5 L106.4,235.6 L107.2,235.5 L108.0,235.0 L108.8,235.2 L109.6,235.2 L110.4,235.4 L111.2,235.4 L112.0,235.5 L112.8,236.1 L113.6,235.8 L114.4,234.6 L115.2,234.8 L116.0,235.4 L116.8,236.1 L117.6,234.1 L118.4,234.9 L119.2,234.8 L120.0,234.5 L120.8,234.6 L121.6,235.2 L122.4,235.1 L123.2,234.3 L124.0,236.0 L124.8,233.8 L125.6,234.4 L126.4,234.4 L127.2,234.5 L128.0,235.5 L128.8,235.7 L129.6,236.9 L130.4,237.3 L131.2,237.9 L132.0,238.0 L132.8,238.0 L133.6,238.6 L134.4,239.0 L135.2,239.0 L136.0,238.0 L136.8,238.9 L137.6,239.7 L138.4,240.4 L139.2,241.0 L140.0,241.0 L140.8,241.7 L141.6,241.6 L142.4,241.9 L143.2,242.8 L144.0,243.7 L144.8,241.8 L145.6,243.3 L146.4,244.1" fill="none" stroke="#0072BD" stroke-width="0.9" stroke-dasharray="4,2"/>
<path d="M146.5,235.0 L147.3,235.6 L148.1,235.6 L148.9,235.6 L149.7,234.9 L150.5,234.7 L151.3,234.3 L152.1,234.5 L152.9,235.3 L153.7,235.4 L154.5,235.7 L155.3,235.7 L156.1,235.2 L156.9,234.6 L157.7,234.3 L158.5,234.4 L159.3,235.3 L160.1,235.2 L160.9,235.8 L161.7,235.3 L162.5,235.2 L163.3,234.7 L164.1,234.6 L164.9,234.6 L165.7,235.2 L166.5,235.6 L167.3,235.6 L168.1,235.5 L168.9,235.2 L169.7,234.1 L170.5,234.2 L171.3,234.2 L172.1,234.6 L172.9,235.5 L173.7,235.8 L174.5,235.4 L175.3,235.1 L176.1,234.6 L176.9,234.3 L177.7,234.0 L178.5,234.0 L179.3,235.0 L180.1,235.4 L180.9,235.7 L181.7,234.8 L182.5,234.8 L183.3,234.3 L184.1,234.2 L184.9,234.6 L185.7,234.9 L186.5,235.0 L187.3,235.7 L188.1,235.3 L188.9,234.6 L189.7,234.4 L190.5,234.2 L191.3,234.5 L192.1,234.5 L192.9,235.5 L193.7,235.7 L194.5,235.2 L195.3,234.7 L196.1,234.1 L196.9,234.2 L197.7,233.7 L198.5,235.0 L199.3,235.3 L200.1,234.8 L200.9,235.4 L201.7,234.3 L202.5,234.5 L203.3,234.4 L204.1,234.1 L204.9,234.6 L205.7,234.9 L206.5,235.5 L207.3,235.3 L208.1,234.7 L208.9,234.4 L209.7,234.7 L210.5,233.9 L211.3,234.2 L212.1,235.4 L212.9,235.0 L213.7,234.9 L214.5,235.1 L215.3,234.4 L216.1,233.2 L216.9,234.1 L217.7,234.9 L218.5,234.3 L219.3,234.8 L220.1,234.6 L220.9,234.1 L221.7,234.0 L222.5,233.2 L223.3,234.0 L224.1,234.2 L224.9,234.3 L225.7,233.7 L226.5,234.9 L227.3,234.2 L228.1,234.2 L228.9,233.6 L229.7,234.6 L230.5,233.8 L231.3,234.2 L232.1,234.1 L232.9,234.4 L233.7,234.4 L234.5,234.7 L235.3,233.7 L236.1,233.0 L236.9,233.4 L237.7,233.9 L238.5,234.2 L239.3,234.1 L240.1,234.2 L240.9,234.3 L241.7,233.5 L242.5,233.8 L243.3,233.9 L244.1,233.8 L244.9,234.0 L245.7,234.0 L246.5,233.7 L247.3,234.4 L248.1,233.0 L248.9,233.9 L249.7,233.5 L250.5,233.9 L251.3,232.9 L252.1,233.6 L252.9,233.9 L253.7,233.6 L254.5,233.5 L255.3,233.5 L256.1,233.3 L256.9,233.4 L257.7,233.4 L258.5,233.3 L259.3,233.2 L260.1,233.5 L260.9,233.3 L261.7,233.7 L262.5,233.8 L263.3,232.6 L264.1,232.4 L264.9,233.4 L265.7,234.4 L266.5,233.1 L267.3,233.7 L268.1,233.4 L268.9,232.3 L269.7,233.0 L270.5,232.1 L271.3,233.6 L272.1,233.6 L272.9,232.9 L273.7,234.5 L274.5,233.1 L275.3,233.5 L276.1,232.4 L276.9,233.0 L277.7,231.8 L278.5,233.2 L279.3,233.1 L280.1,233.6 L280.9,233.0 L281.7,234.2 L282.5,233.0 L283.3,232.7 L284.1,232.6 L284.9,231.4 L285.7,233.7 L286.5,233.2 L287.3,233.2 L288.1,234.4 L288.9,233.1 L289.7,233.4 L290.5,233.1 L291.3,230.5 L292.1,235.7 L292.9,230.8 L293.7,233.1 L294.5,231.4 L295.3,232.2 L296.1,233.1 L296.9,233.5 L297.7,230.1 L298.5,235.4 L299.3,233.3 L300.1,232.6 L300.9,232.3 L301.7,231.0 L302.5,232.9 L303.3,233.2 L304.1,232.9 L304.9,232.1 L305.7,233.4 L306.5,233.6 L307.3,232.1 L308.1,231.4 L308.9,232.3 L309.7,234.4 L310.5,233.6 L311.3,232.1 L312.1,232.6 L312.9,232.3 L313.7,232.8 L314.5,235.6 L315.3,232.0 L316.1,232.2 L316.9,232.9 L317.7,233.0 L318.5,235.5 L319.3,232.8 L320.1,235.3 L320.9,229.7 L321.7,234.3 L322.5,233.7 L323.3,231.7 L324.1,234.0 L324.9,236.7 L325.7,239.0 L326.5,230.9 L327.3,236.8 L328.1,231.5 L328.9,232.8 L329.7,233.7 L330.5,233.0" fill="none" stroke="#D95319" stroke-width="1.1" stroke-opacity="0.9"/>
<path d="M330.5,233.0 L331.3,228.7 L332.1,238.6 L332.9,232.1 L333.7,239.0 L334.5,231.9 L335.3,229.8 L336.1,232.9 L336.7,235.3 L337.3,233.3 L337.9,232.4 L338.4,231.6 L338.9,232.5 L339.4,233.8 L339.9,232.3 L340.4,237.1 L340.9,234.0 L341.4,232.6 L341.9,228.3 L342.4,235.2 L342.9,228.4 L343.4,234.4 L343.9,231.7 L344.4,231.0 L344.9,232.7 L345.4,233.6 L345.9,235.5 L346.4,231.2 L346.9,234.2 L347.4,233.0 L347.9,231.1 L348.4,235.7 L348.9,225.5 L349.4,237.7 L349.9,240.5 L350.4,230.8 L350.9,229.0 L351.4,232.1 L351.9,235.4 L352.4,230.5 L352.9,235.3 L353.5,233.7 L354.2,230.3 L354.9,233.4 L355.9,232.7 L356.9,233.4 L357.9,234.8 L358.9,240.1 L359.9,237.2 L360.9,229.8 L361.9,235.6 L362.9,232.0 L363.9,235.4 L364.9,236.4 L365.9,237.5 L366.9,241.3 L367.9,232.2 L368.9,237.0 L369.9,217.8 L370.9,226.4 L371.9,236.8 L372.9,231.7 L373.9,231.4 L374.9,234.9 L375.9,232.3 L376.9,220.1 L377.9,231.5 L378.9,231.9 L379.9,229.3 L380.9,228.7 L381.9,226.2 L382.9,232.9 L383.9,233.6 L384.9,234.5 L385.9,230.4 L386.9,224.1 L387.9,230.7 L388.9,230.9 L389.9,234.0 L390.9,231.3 L391.9,242.5 L392.9,233.2 L393.9,239.4 L394.9,228.8 L395.9,233.8 L396.9,234.3 L397.9,230.2 L398.9,233.2 L399.9,227.9 L400.9,231.1 L401.6,232.7 L402.1,229.7 L402.5,230.5 L402.9,232.9 L403.3,232.7 L403.7,228.7 L404.0,233.9 L404.4,221.6 L404.8,236.9 L405.1,215.0 L405.5,229.0 L405.9,220.4 L406.2,237.9 L406.6,229.2 L406.9,233.1 L407.3,245.4 L407.7,236.9 L408.0,248.6 L408.4,232.0 L408.8,238.8 L409.1,233.7 L409.5,230.2 L409.9,224.5 L410.2,227.2 L410.6,244.6 L410.9,232.2 L411.3,227.5 L411.7,228.6 L412.0,230.0 L412.4,244.4 L412.8,226.6 L413.1,236.3 L413.5,248.4 L413.9,228.6 L414.2,233.7 L414.6,243.5 L414.9,220.6 L415.3,235.4 L415.7,234.7 L416.0,232.7 L416.4,228.5 L416.8,230.2 L417.1,227.9 L417.5,229.3 L417.9,237.4 L418.2,228.2 L418.6,232.8 L418.9,227.9 L419.3,228.4 L419.7,235.1 L420.0,221.6 L420.4,230.0 L420.8,227.8 L421.1,234.2 L421.5,242.8 L421.9,231.9 L422.3,232.6 L422.7,227.5 L423.1,244.7 L423.5,232.3 L423.9,235.8 L424.3,222.8 L424.8,219.1 L425.2,231.6 L425.6,241.7 L426.1,234.5 L426.5,228.0 L427.0,228.4 L427.5,232.9 L428.0,233.9 L428.5,243.7 L429.0,230.9 L429.6,228.1 L430.4,226.4 L431.3,235.2 L432.4,236.9 L433.5,212.0 L434.7,235.7 L435.8,230.0 L437.0,228.9 L438.1,231.3 L439.3,241.7 L440.4,230.4 L441.5,226.8 L442.7,234.3 L443.8,231.2 L445.0,236.7 L446.1,237.2 L447.3,228.4 L448.4,206.8 L449.5,237.4 L450.7,207.8 L451.8,225.8 L453.0,225.4 L454.1,218.5 L455.3,232.0 L456.4,225.9 L457.5,231.1 L458.7,231.1 L459.8,230.4 L461.0,235.4 L462.1,235.2 L463.3,222.2 L464.4,227.9 L465.5,230.2 L466.7,233.7 L467.8,231.9 L469.0,242.6 L470.1,231.6 L471.3,216.7 L472.4,234.0 L473.5,225.9 L474.7,233.0 L475.8,227.4 L477.0,249.9 L478.1,241.0 L479.3,249.8 L480.4,225.0 L481.5,229.8 L482.7,232.9 L483.8,224.9 L485.0,227.5 L486.1,224.4 L487.3,221.2 L488.4,229.1 L489.5,212.9 L490.7,238.3 L491.8,232.3 L493.0,227.0 L494.1,223.3 L495.3,239.7 L496.4,230.4 L497.5,230.2 L498.7,217.7 L499.8,228.7 L501.0,218.7 L502.1,228.7 L503.3,232.1 L504.4,229.0 L505.5,231.1 L506.7,233.7 L507.8,226.6 L509.0,232.8 L510.1,244.5 L511.3,229.0 L512.4,219.7 L513.3,237.2 L513.8,239.4 L514.3,219.7 L514.8,227.2 L515.2,231.2 L515.6,233.0 L516.1,232.8 L516.5,232.3 L517.0,231.8 L517.4,228.2 L517.9,233.5 L518.3,228.4 L518.8,231.8 L519.2,234.9 L519.6,224.3 L520.1,230.0 L520.5,228.7 L521.0,230.0 L521.4,229.1 L521.9,225.3 L522.3,223.3 L522.8,231.1 L523.2,235.0 L523.6,228.4 L524.1,227.9 L524.5,228.9 L525.0,224.4 L525.4,236.5 L525.9,230.2" fill="none" stroke="#D95319" stroke-width="0.94" stroke-opacity="0.9"/>
<path d="M235.3,233.1 L236.1,233.1 L236.9,233.5 L237.7,233.6 L238.5,233.4 L239.3,232.9 L240.1,232.9 L240.9,233.4 L241.7,232.8 L242.5,232.3 L243.3,232.9 L244.1,233.1 L244.9,234.1 L245.7,233.5 L246.5,233.4 L247.3,232.4 L248.1,233.8 L248.9,233.0 L249.7,233.4 L250.5,232.4 L251.3,232.9 L252.1,233.8 L252.9,233.0 L253.7,233.0 L254.5,231.8 L255.3,232.5 L256.1,232.2 L256.9,231.3 L257.7,232.1 L258.5,233.2 L259.3,231.6 L260.1,232.7 L260.9,231.9 L261.7,231.9 L262.5,231.3 L263.3,231.2 L264.1,231.4 L264.9,230.6 L265.7,231.1 L266.5,230.8 L267.3,231.0 L268.1,231.2 L268.9,231.0 L269.7,230.9 L270.5,230.4 L271.3,229.8 L272.1,230.6 L272.9,230.5 L273.7,230.5 L274.5,230.1 L275.3,230.0 L276.1,229.4 L276.9,230.4 L277.7,231.2 L278.5,230.9 L279.3,230.3 L280.1,229.8 L280.9,231.2 L281.7,229.9 L282.5,229.5 L283.3,229.5 L284.1,229.4 L284.9,229.4 L285.7,229.7 L286.5,229.0 L287.3,230.0 L288.1,229.0 L288.9,229.4 L289.7,227.9 L290.5,231.2 L291.3,229.2 L292.1,229.4 L292.9,229.4 L293.7,231.5 L294.5,229.8 L295.3,226.4 L296.1,229.8 L296.9,229.2 L297.7,229.4 L298.5,228.3 L299.3,228.9 L300.1,232.3 L300.9,226.5 L301.7,229.6 L302.5,225.5 L303.3,229.6 L304.1,229.0 L304.9,225.9 L305.7,229.5 L306.5,228.8 L307.3,231.7 L308.1,229.8 L308.9,229.7 L309.7,229.0 L310.5,229.4 L311.3,228.8 L312.1,231.2 L312.9,230.3 L313.7,228.9 L314.5,231.9 L315.3,230.1 L316.1,228.8 L316.9,230.8 L317.7,229.9 L318.5,228.3 L319.3,228.9 L320.1,230.8 L320.9,229.8 L321.7,233.1 L322.5,229.4 L323.3,230.8 L324.1,233.1 L324.9,231.7 L325.7,226.2 L326.5,231.6 L327.3,234.9 L328.1,228.9 L328.9,226.5 L329.7,232.9 L330.5,231.6" fill="none" stroke="#D95319" stroke-width="0.95" stroke-dasharray="5.5,2.5" stroke-opacity="1.0"/>
<path d="M330.5,231.6 L331.3,232.9 L332.1,236.1 L332.9,231.5 L333.7,233.8 L334.5,224.5 L335.3,231.0 L336.1,230.1 L336.7,230.8 L337.3,228.9 L337.9,229.6 L338.4,230.7 L338.9,230.4 L339.4,231.4 L339.9,232.0 L340.4,228.6 L340.9,231.7 L341.4,231.5 L341.9,229.9 L342.4,230.4 L342.9,235.0 L343.4,233.6 L343.9,229.2 L344.4,228.3 L344.9,233.7 L345.4,236.2 L345.9,231.7 L346.4,232.8 L346.9,231.6 L347.4,233.2 L347.9,229.7 L348.4,230.8 L348.9,238.1 L349.4,229.5 L349.9,222.7 L350.4,229.7 L350.9,232.3 L351.4,232.7 L351.9,230.7 L352.4,233.7 L352.9,236.1 L353.5,232.5 L354.2,228.0 L354.9,239.6 L355.9,232.5 L356.9,234.3 L357.9,231.9 L358.9,234.3 L359.9,227.1 L360.9,234.3 L361.9,234.2 L362.9,232.0 L363.9,241.7 L364.9,217.7 L365.9,228.3 L366.9,246.6 L367.9,232.6 L368.9,231.1 L369.9,228.4 L370.9,217.1 L371.9,227.7 L372.9,233.8 L373.9,227.8 L374.9,226.6 L375.9,228.2 L376.9,245.2 L377.9,231.2 L378.9,233.8 L379.9,233.5 L380.9,234.3 L381.9,233.5 L382.9,230.0 L383.9,227.7 L384.9,233.6 L385.9,228.4 L386.9,221.5 L387.9,222.9 L388.9,232.4 L389.9,228.1 L390.9,229.6 L391.9,241.0 L392.9,232.9 L393.9,231.1 L394.9,237.3 L395.9,228.5 L396.9,227.2 L397.9,239.1 L398.9,232.4 L399.9,232.1 L400.9,234.4 L401.6,244.3 L402.1,227.0 L402.5,230.9 L402.9,238.8 L403.3,230.0 L403.7,229.5 L404.0,230.5 L404.4,221.4 L404.8,233.2 L405.1,245.3 L405.5,233.5 L405.9,234.2 L406.2,233.2 L406.6,230.5 L406.9,234.6 L407.3,229.7 L407.7,225.3 L408.0,227.3 L408.4,245.8 L408.8,228.6 L409.1,229.0 L409.5,228.8 L409.9,226.9 L410.2,215.4 L410.6,225.5 L410.9,231.4 L411.3,228.0 L411.7,245.5 L412.0,220.3 L412.4,231.1 L412.8,214.4 L413.1,218.2 L413.5,238.3 L413.9,225.1 L414.2,228.5 L414.6,233.9 L414.9,229.3 L415.3,233.3 L415.7,227.2 L416.0,226.2 L416.4,232.7 L416.8,228.9 L417.1,235.1 L417.5,233.2 L417.9,235.4 L418.2,218.5 L418.6,228.6 L418.9,227.2 L419.3,239.0 L419.7,229.7 L420.0,229.2 L420.4,235.9 L420.8,225.5 L421.1,225.3 L421.5,237.3 L421.9,230.5 L422.3,232.2 L422.7,229.3 L423.1,230.6 L423.5,241.2 L423.9,241.2 L424.3,227.1 L424.8,233.8 L425.2,240.1 L425.6,233.0 L426.1,229.3 L426.5,227.2 L427.0,239.7 L427.5,235.2 L428.0,227.9 L428.5,236.4 L429.0,214.8 L429.6,229.8 L430.4,229.0 L431.3,213.6 L432.4,226.5 L433.5,234.8 L434.7,223.5 L435.8,232.1 L437.0,228.9 L438.1,232.0 L439.3,226.9 L440.4,219.1 L441.5,241.6 L442.7,235.2 L443.8,251.7 L445.0,222.9 L446.1,222.1 L447.3,234.8 L448.4,226.4 L449.5,223.6 L450.7,245.3 L451.8,241.8 L453.0,230.3 L454.1,208.4 L455.3,227.9 L456.4,226.3 L457.5,223.7 L458.7,234.0 L459.8,228.6 L461.0,225.4 L462.1,213.3 L463.3,235.3 L464.4,231.7 L465.5,226.9 L466.7,239.4 L467.8,222.4 L469.0,218.5 L470.1,240.9 L471.3,233.2 L472.4,232.9 L473.5,227.3 L474.7,215.6 L475.8,240.5 L477.0,216.8 L478.1,242.2 L479.3,220.5 L480.4,223.9 L481.5,226.2 L482.7,242.2 L483.8,231.4 L485.0,223.2 L486.1,223.6 L487.3,230.6 L488.4,230.8 L489.5,231.1 L490.7,231.1 L491.8,230.4 L493.0,229.1 L494.1,231.0 L495.3,224.5 L496.4,225.8 L497.5,230.5 L498.7,216.9 L499.8,241.2 L501.0,237.8 L502.1,227.8 L503.3,231.0 L504.4,229.6 L505.5,227.8 L506.7,226.4 L507.8,230.7 L509.0,229.6 L510.1,219.1 L511.3,231.5 L512.4,239.3 L513.3,232.0 L513.8,229.3 L514.3,238.7 L514.8,228.4 L515.2,229.5 L515.6,238.3 L516.1,225.7 L516.5,227.9 L517.0,228.6 L517.4,225.5 L517.9,229.6 L518.3,236.2 L518.8,230.2 L519.2,227.4 L519.6,233.3 L520.1,231.6 L520.5,227.6 L521.0,222.8 L521.4,234.7 L521.9,227.3 L522.3,227.0 L522.8,226.7 L523.2,227.6 L523.6,226.5 L524.1,229.2 L524.5,229.7 L525.0,224.0 L525.4,226.0 L525.9,224.4" fill="none" stroke="#D95319" stroke-width="0.81" stroke-dasharray="5.5,2.5" stroke-opacity="1.0"/>
<path d="M235.3,235.0 L236.1,234.5 L236.9,234.2 L237.7,234.6 L238.5,234.8 L239.3,234.6 L240.1,234.6 L240.9,234.3 L241.7,234.2 L242.5,234.1 L243.3,234.6 L244.1,234.1 L244.9,234.2 L245.7,234.6 L246.5,234.4 L247.3,234.4 L248.1,234.2 L248.9,234.1 L249.7,233.1 L250.5,234.1 L251.3,234.3 L252.1,233.7 L252.9,234.4 L253.7,233.9 L254.5,234.5 L255.3,234.8 L256.1,234.9 L256.9,234.9 L257.7,234.3 L258.5,235.8 L259.3,235.2 L260.1,236.1 L260.9,234.4 L261.7,234.3 L262.5,235.4 L263.3,235.4 L264.1,235.6 L264.9,235.7 L265.7,235.9 L266.5,236.1 L267.3,236.0 L268.1,235.1 L268.9,236.2 L269.7,235.9 L270.5,235.9 L271.3,235.9 L272.1,236.1 L272.9,236.0 L273.7,235.5 L274.5,236.5 L275.3,236.4 L276.1,235.7 L276.9,235.2 L277.7,235.1 L278.5,235.6 L279.3,235.3 L280.1,237.3 L280.9,237.7 L281.7,234.8 L282.5,236.8 L283.3,235.5 L284.1,237.5 L284.9,235.9 L285.7,236.2 L286.5,236.6 L287.3,236.2 L288.1,238.7 L288.9,238.6 L289.7,236.2 L290.5,237.1 L291.3,236.9 L292.1,236.9 L292.9,237.3 L293.7,237.1 L294.5,239.8 L295.3,239.7 L296.1,235.1 L296.9,236.0 L297.7,236.0 L298.5,238.8 L299.3,240.4 L300.1,236.0 L300.9,234.1 L301.7,233.6 L302.5,235.7 L303.3,236.6 L304.1,236.2 L304.9,237.2 L305.7,236.3 L306.5,236.8 L307.3,234.4 L308.1,239.5 L308.9,237.2 L309.7,236.1 L310.5,239.3 L311.3,236.3 L312.1,235.5 L312.9,234.7 L313.7,236.9 L314.5,235.8 L315.3,239.1 L316.1,235.8 L316.9,233.5 L317.7,235.2 L318.5,239.0 L319.3,235.9 L320.1,239.5 L320.9,234.4 L321.7,238.0 L322.5,235.5 L323.3,235.8 L324.1,239.7 L324.9,235.5 L325.7,236.1 L326.5,236.2 L327.3,234.0 L328.1,234.9 L328.9,242.0 L329.7,234.5 L330.5,227.8" fill="none" stroke="#D95319" stroke-width="0.95" stroke-dasharray="5.5,2.5" stroke-opacity="1.0"/>
<path d="M330.5,227.8 L331.3,237.0 L332.1,232.8 L332.9,236.9 L333.7,233.1 L334.5,233.4 L335.3,231.1 L336.1,239.9 L336.7,236.1 L337.3,232.6 L337.9,236.3 L338.4,237.0 L338.9,233.6 L339.4,235.4 L339.9,236.3 L340.4,233.7 L340.9,236.3 L341.4,241.8 L341.9,230.5 L342.4,243.6 L342.9,237.3 L343.4,237.2 L343.9,244.4 L344.4,235.1 L344.9,227.9 L345.4,226.0 L345.9,232.7 L346.4,228.4 L346.9,230.5 L347.4,232.4 L347.9,240.3 L348.4,229.8 L348.9,232.7 L349.4,230.3 L349.9,235.0 L350.4,233.4 L350.9,237.7 L351.4,234.9 L351.9,234.7 L352.4,234.4 L352.9,237.1 L353.5,228.3 L354.2,233.2 L354.9,226.6 L355.9,223.4 L356.9,244.7 L357.9,234.8 L358.9,235.7 L359.9,238.2 L360.9,234.8 L361.9,232.8 L362.9,241.4 L363.9,247.9 L364.9,232.9 L365.9,232.2 L366.9,233.3 L367.9,237.0 L368.9,231.4 L369.9,239.4 L370.9,232.1 L371.9,232.4 L372.9,225.0 L373.9,233.5 L374.9,233.4 L375.9,236.2 L376.9,226.7 L377.9,232.2 L378.9,227.4 L379.9,232.8 L380.9,233.6 L381.9,222.7 L382.9,237.4 L383.9,233.4 L384.9,235.8 L385.9,240.3 L386.9,235.6 L387.9,228.5 L388.9,233.9 L389.9,235.4 L390.9,231.8 L391.9,234.4 L392.9,236.7 L393.9,231.5 L394.9,233.8 L395.9,231.4 L396.9,222.4 L397.9,233.9 L398.9,242.5 L399.9,235.2 L400.9,245.1 L401.6,235.8 L402.1,232.4 L402.5,233.8 L402.9,235.5 L403.3,237.0 L403.7,235.6 L404.0,233.9 L404.4,230.2 L404.8,237.8 L405.1,231.4 L405.5,232.8 L405.9,238.4 L406.2,230.2 L406.6,224.0 L406.9,230.5 L407.3,229.0 L407.7,234.0 L408.0,237.0 L408.4,232.8 L408.8,237.2 L409.1,232.8 L409.5,236.8 L409.9,230.1 L410.2,231.7 L410.6,230.2 L410.9,236.0 L411.3,226.0 L411.7,224.5 L412.0,222.5 L412.4,236.2 L412.8,239.1 L413.1,229.1 L413.5,219.0 L413.9,248.8 L414.2,237.2 L414.6,237.1 L414.9,222.2 L415.3,234.1 L415.7,221.7 L416.0,233.1 L416.4,243.1 L416.8,231.7 L417.1,233.0 L417.5,232.5 L417.9,226.0 L418.2,229.7 L418.6,236.1 L418.9,229.0 L419.3,238.0 L419.7,237.1 L420.0,237.8 L420.4,236.0 L420.8,248.0 L421.1,221.3 L421.5,231.8 L421.9,230.4 L422.3,229.1 L422.7,237.6 L423.1,237.6 L423.5,246.2 L423.9,231.1 L424.3,242.4 L424.8,236.2 L425.2,231.9 L425.6,242.7 L426.1,230.5 L426.5,240.1 L427.0,241.7 L427.5,229.9 L428.0,232.8 L428.5,247.4 L429.0,237.0 L429.6,242.3 L430.4,244.5 L431.3,231.3 L432.4,235.0 L433.5,220.7 L434.7,220.6 L435.8,218.7 L437.0,249.0 L438.1,230.3 L439.3,228.1 L440.4,229.7 L441.5,227.7 L442.7,237.4 L443.8,219.6 L445.0,247.0 L446.1,237.6 L447.3,237.1 L448.4,240.0 L449.5,216.5 L450.7,226.9 L451.8,237.1 L453.0,230.4 L454.1,236.4 L455.3,213.6 L456.4,227.7 L457.5,215.2 L458.7,235.0 L459.8,233.6 L461.0,233.3 L462.1,222.6 L463.3,229.6 L464.4,229.1 L465.5,231.7 L466.7,233.3 L467.8,238.4 L469.0,239.3 L470.1,232.4 L471.3,232.1 L472.4,226.0 L473.5,237.2 L474.7,251.0 L475.8,227.7 L477.0,223.3 L478.1,249.6 L479.3,230.7 L480.4,226.7 L481.5,227.3 L482.7,214.4 L483.8,227.8 L485.0,234.7 L486.1,227.2 L487.3,237.5 L488.4,252.1 L489.5,229.8 L490.7,234.8 L491.8,237.6 L493.0,228.4 L494.1,233.1 L495.3,232.2 L496.4,230.7 L497.5,230.6 L498.7,229.0 L499.8,243.3 L501.0,222.4 L502.1,231.7 L503.3,235.8 L504.4,231.1 L505.5,230.8 L506.7,240.6 L507.8,232.9 L509.0,226.0 L510.1,229.7 L511.3,233.4 L512.4,231.1 L513.3,232.5 L513.8,240.7 L514.3,229.0 L514.8,234.8 L515.2,233.3 L515.6,241.5 L516.1,230.9 L516.5,230.7 L517.0,229.9 L517.4,226.6 L517.9,231.0 L518.3,223.3 L518.8,225.1 L519.2,239.6 L519.6,233.5 L520.1,231.7 L520.5,233.3 L521.0,230.1 L521.4,228.7 L521.9,233.7 L522.3,230.1 L522.8,226.4 L523.2,231.9 L523.6,231.0 L524.1,225.1 L524.5,232.3 L525.0,234.6 L525.4,230.5 L525.9,232.0" fill="none" stroke="#D95319" stroke-width="0.81" stroke-dasharray="5.5,2.5" stroke-opacity="1.0"/>
<path d="M357.0,214.9 L357.4,224.9 M357.6,238.9 L358.0,246.9 M442.0,203.2 L442.4,217.2 M446.0,239.1 L446.4,247.1" fill="none" stroke="#D95319" stroke-width="0.9" stroke-dasharray="5,2"/>
<line x1="146.2" y1="201.5" x2="146.2" y2="269.1" stroke="#3a3a3a" stroke-width="0.9" stroke-dasharray="4.2,4.3" stroke-dashoffset="7.1"/>
<line x1="315.0" y1="201.5" x2="315.0" y2="269.1" stroke="#3a3a3a" stroke-width="0.85"/>
<line x1="20.0" y1="201.50" x2="526.0" y2="201.50" stroke="#262626" stroke-width="0.8"/>
<line x1="20.0" y1="269.10" x2="526.0" y2="269.10" stroke="#262626" stroke-width="0.95"/>
<line x1="20.00" y1="201.2" x2="20.00" y2="269.4" stroke="#0072BD" stroke-width="0.9"/>
<line x1="526.05" y1="201.2" x2="526.05" y2="269.4" stroke="#D95319" stroke-width="0.95"/>
<line x1="104.64" y1="201.5" x2="104.64" y2="206.0" stroke="#262626" stroke-width="0.7"/>
<line x1="104.64" y1="269.1" x2="104.64" y2="264.6" stroke="#262626" stroke-width="0.7"/>
<line x1="188.98" y1="201.5" x2="188.98" y2="206.0" stroke="#262626" stroke-width="0.7"/>
<line x1="188.98" y1="269.1" x2="188.98" y2="264.6" stroke="#262626" stroke-width="0.7"/>
<line x1="273.32" y1="201.5" x2="273.32" y2="206.0" stroke="#262626" stroke-width="0.7"/>
<line x1="273.32" y1="269.1" x2="273.32" y2="264.6" stroke="#262626" stroke-width="0.7"/>
<line x1="357.66" y1="201.5" x2="357.66" y2="206.0" stroke="#262626" stroke-width="0.7"/>
<line x1="357.66" y1="269.1" x2="357.66" y2="264.6" stroke="#262626" stroke-width="0.7"/>
<line x1="442.00" y1="201.5" x2="442.00" y2="206.0" stroke="#262626" stroke-width="0.7"/>
<line x1="442.00" y1="269.1" x2="442.00" y2="264.6" stroke="#262626" stroke-width="0.7"/>
<line x1="20.0" y1="269.10" x2="24.5" y2="269.10" stroke="#0072BD" stroke-width="0.7"/>
<line x1="526.0" y1="269.10" x2="521.5" y2="269.10" stroke="#D95319" stroke-width="0.7"/>
<line x1="20.0" y1="252.20" x2="24.5" y2="252.20" stroke="#0072BD" stroke-width="0.7"/>
<line x1="526.0" y1="252.20" x2="521.5" y2="252.20" stroke="#D95319" stroke-width="0.7"/>
<line x1="20.0" y1="235.30" x2="24.5" y2="235.30" stroke="#0072BD" stroke-width="0.7"/>
<line x1="526.0" y1="235.30" x2="521.5" y2="235.30" stroke="#D95319" stroke-width="0.7"/>
<line x1="20.0" y1="218.40" x2="24.5" y2="218.40" stroke="#0072BD" stroke-width="0.7"/>
<line x1="526.0" y1="218.40" x2="521.5" y2="218.40" stroke="#D95319" stroke-width="0.7"/>
<line x1="20.0" y1="201.50" x2="24.5" y2="201.50" stroke="#0072BD" stroke-width="0.7"/>
<line x1="526.0" y1="201.50" x2="521.5" y2="201.50" stroke="#D95319" stroke-width="0.7"/>
<rect x="250.5" y="205.7" width="45.2" height="19.0" fill="#fff" stroke="#262626" stroke-width="0.5"/>
<line x1="252.3" y1="211.5" x2="272.5" y2="211.5" stroke="#3d94d4" stroke-width="0.8"/>
<line x1="252.3" y1="219.6" x2="272.5" y2="219.6" stroke="#3d94d4" stroke-width="0.8" stroke-dasharray="4.5,2.6"/>
<text x="274.6" y="212.2" class="lg" fill="#262626">Z<tspan dy="2.7" font-size="4.6">LM</tspan></text>
<text x="274.6" y="222.0" class="lg" fill="#262626">Z -+ 3<tspan dx="0.5" font-size="6.4">σ</tspan></text>
<text x="20.3" y="278.4" text-anchor="middle" class="tk" fill="#262626">0</text>
<text x="104.6" y="278.4" text-anchor="middle" class="tk" fill="#262626">100</text>
<text x="189.0" y="278.4" text-anchor="middle" class="tk" fill="#262626">200</text>
<text x="273.3" y="278.4" text-anchor="middle" class="tk" fill="#262626">300</text>
<text x="357.7" y="278.4" text-anchor="middle" class="tk" fill="#262626">400</text>
<text x="442.0" y="278.4" text-anchor="middle" class="tk" fill="#262626">500</text>
<text x="526.3" y="278.4" text-anchor="middle" class="tk" fill="#262626">600</text>
<text x="17.5" y="203.7" text-anchor="end" class="tk" fill="#0072BD">2</text>
<text x="528.5" y="203.8" text-anchor="start" class="tk" fill="#D95319">40</text>
<text x="17.5" y="220.8" text-anchor="end" class="tk" fill="#0072BD">1</text>
<text x="528.5" y="220.8" text-anchor="start" class="tk" fill="#D95319">20</text>
<text x="17.5" y="237.9" text-anchor="end" class="tk" fill="#0072BD">0</text>
<text x="528.5" y="237.9" text-anchor="start" class="tk" fill="#D95319">0</text>
<text x="17.5" y="255.0" text-anchor="end" class="tk" fill="#0072BD">-1</text>
<text x="528.5" y="254.9" text-anchor="start" class="tk" fill="#D95319">-20</text>
<text x="17.5" y="272.1" text-anchor="end" class="tk" fill="#0072BD">-2</text>
<text x="528.5" y="272.0" text-anchor="start" class="tk" fill="#D95319">-40</text>
<text x="273" y="286.8" text-anchor="middle" class="lb" fill="#262626">Distance from Helipad, m</text>
<text transform="translate(9.7,235.3) rotate(-90)" text-anchor="middle" class="lb" fill="#0072BD">Z error LM, m</text>
<text transform="translate(546.2,235.3) rotate(-90)" text-anchor="middle" class="lb" fill="#D95319">Z error LM, m</text>
</g>
</svg>
</body></html>
